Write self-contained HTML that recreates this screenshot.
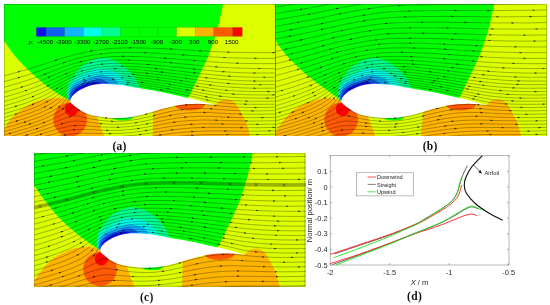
<!DOCTYPE html>
<html><head><meta charset="utf-8"><title>figure</title>
<style>
html,body{margin:0;padding:0;background:#fff}
body{width:550px;height:305px;position:relative;overflow:hidden;font-family:"Liberation Sans",sans-serif}
svg{position:absolute;display:block;overflow:hidden}
svg text{font-family:"Liberation Sans",sans-serif}
.ch{left:0;top:0}
.cap{position:absolute;font-family:"Liberation Serif",serif;font-weight:bold;font-size:11.5px;line-height:12px;letter-spacing:0.3px;width:30px;text-align:center;color:#111}
</style></head><body>
<svg width="0" height="0" style="position:absolute"><defs>
<clipPath id="above"><path d="M0 0H271V90H140L65 95.5H0Z"/></clipPath>
<clipPath id="axc"><rect x="330.2" y="155.4" width="178.8" height="109.6"/></clipPath>
</defs></svg>
<svg class="pn" style="left:3.7px;top:3.85px" width="271.6" height="132.65" viewBox="0 0 271.0 132.5" preserveAspectRatio="none">
<rect x="-3" y="-3" width="277.0" height="138.5" fill="#00ff00"/>
<path fill="#dcff00" d="M0 36.8 C1.7 39.1 6.7 46.5 10 50.6 C13.3 54.7 16.7 58.3 20 61.7 C23.3 65.1 26.1 67.7 30 71.1 C33.9 74.5 39 78.9 43.2 82.1 C47.4 85.3 51.2 87.9 55 90.3 C58.8 92.7 64.2 95.4 66 96.4 L184 93.6 C185.8 90 191.1 79.1 194.5 71.9 C197.9 64.7 201.3 58.4 204.5 50.2 C207.7 42.1 211.2 31.4 213.5 23 C215.8 14.6 217.8 3.8 218.6 0 L219.2 -3 L274.0 -3 L274.0 135.5 L-3 135.5 L-3 36.8 Z"/>
<path fill="#00ff8c" d="M64.7 97.7 C64.3 96.6 63 93.5 62.7 91.1 C62.4 88.7 62.6 85.9 63 83.5 C63.4 81.1 64 78.9 65.1 76.9 C66.2 74.8 67.5 73.4 69.4 71.1 C71.3 68.7 73.8 65.3 76.5 62.9 C79.2 60.5 82.7 58.4 85.8 56.9 C88.9 55.5 92.1 54.6 95 54.2 C97.9 53.7 100.5 53.9 103 54.3 C105.5 54.7 107.6 55.5 110 56.5 C112.4 57.6 114.7 58.7 117.2 60.5 C119.7 62.2 122.7 64.7 125.1 67.1 C127.5 69.6 130 72.5 131.7 75.1 C133.4 77.7 134.9 81.6 135.5 82.9 L133.5 92 L72 98 Z"/>
<path fill="#00ffe6" d="M65 97.7 C64.8 96.7 63.8 93.9 63.7 91.7 C63.6 89.5 63.9 86.7 64.6 84.6 C65.3 82.5 66.3 80.8 67.7 79.1 C69 77.5 70.6 76.3 72.6 74.7 C74.7 73.2 77.4 71.3 80 69.8 C82.6 68.4 85.6 66.9 88.1 66 C90.6 65.2 92.8 64.9 95 64.8 C97.2 64.7 98.9 64.9 101.5 65.4 C104.1 65.9 108.1 66.7 110.7 67.7 C113.3 68.8 115.4 70.3 117.2 71.9 C119 73.4 120.6 75.6 121.8 77.2 C123 78.8 124 80.8 124.5 81.6 L122.5 92 L72 98 Z"/>
<path fill="#10b4ff" d="M65.3 97.7 C65.2 96.8 64.6 94.4 64.6 92.4 C64.7 90.4 64.9 87.7 65.6 85.8 C66.3 83.9 67.4 82.4 68.8 81.1 C70.2 79.8 72 79 74 78 C76.1 77 78.6 76.1 81.2 75.1 C83.8 74.1 87.1 72.8 89.6 72.1 C92.1 71.5 94.1 71.1 96 71 C97.9 71 99.4 71.5 101 71.8 C102.6 72.1 103.8 72.3 105.4 72.8 C107 73.4 109.2 73.9 110.7 75.1 C112.2 76.4 113.9 79.4 114.5 80.2 L112.5 92 L72 98 Z"/>
<path fill="#1060f0" d="M65.7 97.7 C65.6 96.9 65.2 94.8 65.3 93 C65.5 91.2 65.9 88.8 66.8 87.2 C67.7 85.6 69.1 84.4 70.5 83.2 C71.9 82.1 73.5 81.2 75.4 80.3 C77.3 79.4 79.7 78.8 82.2 78 C84.7 77.1 88.3 75.8 90.6 75.3 C92.9 74.9 94.4 74.9 96 75.1 C97.6 75.2 98.9 75.8 100 76.3 C101.1 76.8 101.7 77.1 102.8 77.9 C103.9 78.7 105.9 80.5 106.5 81 L104.5 92 L72 98 Z"/>
<path fill="#1010f0" d="M66 97.7 C66.1 97.2 66.1 95.7 66.5 94.2 C66.9 92.8 67.6 90.6 68.6 89 C69.5 87.5 70.7 86.1 72.1 84.9 C73.5 83.8 75 82.9 77 81.9 C79 81 82 79.7 84.3 79.1 C86.6 78.4 89.2 78.1 91 78 C92.8 78 93.7 78.5 94.9 78.9 C96.1 79.4 97.5 80.6 98 80.9 L96 92 L72 98 Z"/>
<path fill="#ffb400" d="M0 126.8 C0.8 125.2 2.7 120.1 5 117 C7.3 113.9 11 110.5 14 108 C17 105.5 20 103.4 23 101.7 C26 100 28.7 98.7 32 97.6 C35.3 96.5 39.2 95.6 42.8 95 C46.4 94.4 50.2 93.9 53.7 94 C57.2 94.1 61.6 95 63.6 95.4 C65.7 95.8 65.6 96.2 66 96.4 L92.4 112 L101.4 135.5 L-3 135.5 L-3 128.8 Z"/>
<path fill="#ffb400" d="M148.3 135.5 L148.8 105 L200 100.4 L211 101.1  L211 101.1 C211.5 100.5 212.9 98.5 214 97.6 C215.1 96.7 215.9 96.3 217.3 95.9 C218.7 95.5 220.9 95.2 222.5 95.3 C224.1 95.4 225.4 95.6 227 96.5 C228.6 97.4 230.3 98.6 232 100.8 C233.7 103 235.5 106.3 237.2 109.5 C238.9 112.7 240.9 116.2 242.3 120 C243.7 123.8 244.9 129.9 245.6 132.5 C246.2 135.1 246.1 135 246.2 135.5 L246.2 135.5 Z"/>
<circle cx="66" cy="115.5" r="16.8" fill="#ff5a00"/>
<circle cx="67.4" cy="105.2" r="6.7" fill="#ff0000"/>
<path d="M170.1 99V100.3A15.2 6 0 0 0 200.5 100.3V99.4Z" fill="#ff5a00"/>
<ellipse cx="118.2" cy="113.4" rx="10.8" ry="2.9" fill="#00ff00"/>
<path fill="#fff" d="M211 101 L210.9 101 L210.6 100.9 L210.1 100.7 L209.3 100.5 L208.4 100.2 L207.3 99.9 L205.9 99.5 L204.4 99.1 L202.7 98.6 L200.8 98.1 L198.7 97.5 L196.4 96.9 L194 96.3 L191.4 95.6 L188.6 95 L185.7 94.3 L182.7 93.6 L179.5 92.9 L176.1 92.2 L172.7 91.4 L169.2 90.6 L165.6 89.7 L161.9 88.9 L158.1 88.1 L154.2 87.4 L150.3 86.7 L146.3 86 L142.3 85.4 L138.3 84.7 L134.3 84 L130.3 83.3 L126.3 82.6 L122.3 81.8 L118.4 81.1 L114.5 80.6 L110.6 80.3 L106.8 80.1 L103.1 79.8 L99.5 79.7 L96 79.8 L92.6 80.2 L89.4 80.7 L86.3 81.4 L83.5 82.4 L80.9 83.5 L78.4 84.6 L76.2 85.7 L74.1 86.9 L72.3 88.1 L70.8 89.3 L69.5 90.6 L68.4 91.7 L67.6 92.8 L67 93.8 L66.6 94.7 L66.4 95.5 L66.2 96 L66.1 96.3 L66.1 96.4 L66.1 96.5 L66.2 96.8 L66.3 97.4 L66.6 98.1 L67 98.9 L67.8 99.8 L68.8 100.7 L70.1 101.7 L71.5 102.8 L73 104 L74.7 105.3 L76.7 106.6 L78.8 107.9 L81.2 109.2 L83.8 110.2 L86.6 111.1 L89.7 111.8 L92.9 112.3 L96.2 112.8 L99.7 113.3 L103.3 113.7 L106.9 114 L110.7 114.1 L114.6 114 L118.5 113.9 L122.4 113.6 L126.4 113.1 L130.4 112.4 L134.3 111.6 L138.3 110.6 L142.2 109.5 L146 108.4 L149.9 107.2 L153.7 106.1 L157.4 105 L161.1 104 L164.8 103 L168.4 102.2 L171.9 101.5 L175.4 101 L178.7 100.5 L181.9 100.2 L185.1 100 L188 99.8 L190.9 99.7 L193.5 99.7 L196 99.8 L198.4 99.9 L200.5 100 L202.5 100.2 L204.2 100.3 L205.8 100.5 L207.2 100.6 L208.3 100.7 L209.3 100.8 L210 100.9 L210.6 101 L210.9 101 L211 101Z"/>
<path d="M0 71.7 L12 68.5 L24 65.1 L36 61.4 L48 57.5 L60 53.6 L72 50.3 L84 47.6 L96 45.7 L108 44.3 L120 43.8 L132 43.8 L144 44.1 L156 44.5 L168 45.1 L180 45.8 L192 46.5 L204 47.2 L216 47.8 L228 48.2 L240 48.5 L252 48.6 L264 48.6 L274 48.5M0 77.6 L12 74.3 L24 70.7 L36 66.8 L48 62.5 L60 58.4 L72 54.8 L84 51.9 L96 49.9 L108 48.7 L120 48.3 L132 48.4 L144 48.8 L156 49.4 L168 50.1 L180 50.9 L192 51.8 L204 52.6 L216 53.3 L228 53.8 L240 54.1 L252 54.3 L264 54.3 L274 54.2M0 83.2 L12 79.8 L24 76 L36 71.9 L48 67.3 L60 62.7 L72 58.8 L84 55.8 L96 53.8 L108 52.6 L120 52.3 L132 52.5 L144 53 L156 53.8 L168 54.7 L180 55.7 L192 56.6 L204 57.6 L216 58.4 L228 59 L240 59.4 L252 59.6 L264 59.6 L274 59.5M0 88.3 L12 84.9 L24 81 L36 76.7 L48 71.7 L60 66.7 L72 62.4 L84 59.3 L96 57.2 L108 56.1 L120 55.9 L132 56.3 L144 56.9 L156 57.8 L168 58.9 L180 60 L192 61.1 L204 62.2 L216 63.1 L228 63.8 L240 64.2 L252 64.5 L264 64.5 L274 64.4M0 93.1 L12 89.7 L24 85.7 L36 81.2 L47 76.3 L58 71.2 L70 66.4 L82 62.9 L94 60.6 L106 59.4 L118 59.2 L130 59.6 L142 60.3 L154 61.3 L166 62.5 L178 63.7 L190 65 L202 66.2 L214 67.3 L226 68.1 L238 68.7 L250 69 L262 69 L274 68.9M0 97.6 L12 94.1 L24 90.1 L36 85.4 L47 80.3 L58 74.7 L69 69.8 L81 65.9 L93 63.5 L105 62.2 L117 62.1 L129 62.6 L141 63.4 L153 64.6 L165 65.8 L177 67.2 L189 68.7 L201 70 L213 71.2 L225 72.2 L237 72.8 L249 73.1 L261 73.2 L273 73.1 L274 73.1M0 101.8 L12 98.3 L24 94.2 L36 89.4 L47 84 L58 78 L69 72.6 L81 68.4 L93 65.9 L105 64.8 L117 64.7 L129 65.3 L141 66.3 L153 67.6 L165 69 L177 70.5 L189 72.1 L201 73.6 L213 74.9 L225 75.9 L237 76.6 L249 76.9 L261 77 L273 76.9 L274 76.9M0 105.7 L12 102.2 L24 98.2 L36 93.4 L47 87.8 L58 81.1 L69 75.2 L81 70.7 L93 68.1 L105 67.1 L117 67.1 L129 67.9 L141 69 L153 70.4 L165 71.9 L177 73.6 L189 75.3 L201 77 L213 78.5 L225 79.5 L237 80.2 L249 80.6 L261 80.6 L273 80.5 L274 80.5M0 109.6 L12 106.1 L24 102.1 L36 97.3 L47 91.6 L58 84.3 L69 77.7 L80 73.2 L92 70.3 L104 69.2 L116 69.4 L128 70.2 L140 71.5 L152 73 L164 74.6 L176 76.4 L188 78.3 L200 80.1 L212 81.8 L224 83 L236 83.7 L248 84.1 L260 84.1 L272 84 L274 84M0 113.4 L12 109.9 L24 105.9 L36 101.2 L47 95.5 L57 88.4 L66 81.8 L75 77.1 L86 73.5 L98 71.6 L110 71.3 L122 72 L134 73.3 L146 74.8 L158 76.4 L170 78.3 L182 80.3 L194 82.3 L206 84.2 L218 85.8 L230 86.8 L242 87.3 L254 87.5 L266 87.5 L274 87.4M0 117 L12 113.6 L24 109.6 L36 105 L47 99.5 L54 94.6 L64 85.8 L70 81.7 L79 77.5 L89 74.6 L101 73.3 L113 73.4 L125 74.4 L137 76 L149 77.6 L161 79.4 L173 81.5 L185 83.6 L197 85.8 L209 87.9 L221 89.4 L233 90.3 L245 90.7 L257 90.9 L269 90.8 L274 90.7M0 120.6 L12 117.2 L24 113.3 L36 108.8 L47 103.6 L53 99.6 L57 96.1 L64 88.6 L69 84.6 L76 80.6 L85 77.3 L95 75.4 L107 75 L119 75.8 L131 77.4 L143 79.1 L155 80.9 L167 83 L179 85.3 L191 87.6 L203 90 L215 92 L227 93.2 L239 93.8 L251 94 L263 94 L274 93.8M0 124.1 L12 120.7 L24 116.9 L36 112.6 L47 107.7 L53 104.1 L56 101.8 L58 99.9 L60 97.5 L64 91.7 L67 88.4 L71 85.3 L78 81.5 L86 78.6 L96 76.9 L108 76.8 L120 77.8 L132 79.6 L144 81.5 L156 83.4 L168 85.6 L180 88.1 L192 90.6 L204 93.2 L216 95.4 L228 96.5 L240 97 L252 97.2 L264 97.1 L274 96.9M0 127.5 L12 124.1 L24 120.4 L36 116.3 L48 111.2 L56 106.8 L59 104.6 L61 102.6 L62 101.2 L63 99.2 L64 96.1 L65 93.8 L66 92.2 L68 89.8 L71 87.2 L76 84.1 L84 80.7 L92 78.8 L104 78.3 L116 79.1 L128 81 L140 83 L152 84.9 L164 87.2 L176 89.8 L188 92.3 L200 95.2 L212 98 L224 99.3 L236 100 L248 100.2 L260 100.2 L272 100 L274 99.9M0 130.8 L12 127.5 L24 123.9 L36 119.9 L48 115.2 L59 110 L64 106.9 L66 105 L67 104.2 L69 103.5 L70 103.4 L71 103.6 L81 109.4 L87 111.6 L99 113.6 L111 114.5 L123 113.9 L135 111.9 L147 108.7 L159 105.2 L171 102.4 L183 100.7 L195 100.2 L207 101 L219 102.3 L231 103 L243 103.3 L255 103.4 L267 103.2 L274 103.1M0 134.1 L12 130.8 L24 127.2 L36 123.4 L48 119 L60 114.4 L67 112.1 L70 111.6 L73 111.7 L85 114.5 L97 116.4 L109 117.3 L121 116.9 L133 115.3 L145 112.6 L157 109.5 L169 106.8 L181 105 L193 104.3 L205 104.6 L217 105.6 L229 106.3 L241 106.7 L253 106.8 L265 106.6 L274 106.4M7 135.4 L19 132.1 L31 128.4 L43 124.5 L55 120.5 L66 117.4 L72 116.8 L84 118 L96 119.5 L108 120.2 L120 119.9 L132 118.5 L144 116.2 L156 113.4 L168 110.9 L180 109.1 L192 108.3 L204 108.4 L216 109.1 L228 109.7 L240 110 L252 110.1 L264 110 L274 109.8M19 135.4 L31 131.8 L43 128.1 L55 124.4 L67 121.7 L76 121.2 L88 122.1 L100 123 L112 123.2 L124 122.6 L136 121 L148 118.7 L160 116.2 L172 114 L184 112.7 L196 112.1 L208 112.3 L220 112.9 L232 113.3 L244 113.5 L256 113.5 L268 113.3 L274 113.1M31 135.2 L43 131.7 L55 128.3 L67 125.8 L79 125.2 L91 125.8 L103 126.3 L115 126.2 L127 125.3 L139 123.6 L151 121.5 L163 119.2 L175 117.4 L187 116.3 L199 115.9 L211 116.1 L223 116.5 L235 116.7 L247 116.9 L259 116.8 L271 116.6 L274 116.5M42 135.5 L54 132.3 L66 129.9 L78 129 L90 129.2 L102 129.5 L114 129.3 L126 128.5 L138 127 L150 125 L162 123 L174 121.3 L186 120.2 L198 119.7 L210 119.7 L222 119.9 L234 120.1 L246 120.2 L258 120.2 L270 119.9 L274 119.8M56 135.5 L68 133.5 L80 132.6 L92 132.6 L104 132.7 L116 132.3 L128 131.4 L140 129.9 L152 128.1 L164 126.3 L176 124.8 L188 123.7 L200 123.3 L212 123.3 L224 123.4 L236 123.6 L248 123.6 L260 123.5 L272 123.2 L274 123.1M115 135.5 L127 134.6 L139 133.3 L151 131.7 L163 130 L175 128.5 L187 127.5 L199 127 L211 126.8 L223 126.9 L235 127 L247 127 L259 126.9 L271 126.6 L274 126.5M148 135.4 L160 133.8 L172 132.4 L184 131.3 L196 130.7 L208 130.4 L220 130.4 L232 130.4 L244 130.4 L256 130.3 L268 130.1 L274 129.8M177 135.5 L189 134.6 L201 134.1 L213 133.9 L225 133.8 L237 133.8 L249 133.7 L261 133.5 L273 133.2 L274 133.2" fill="none" stroke="#000" stroke-opacity="0.62" stroke-width="0.48"/>
<path d="M16.5 67.3L14.3 68.8L13.8 67.1ZM53.5 55.7L51.4 57.3L50.8 55.7ZM88.6 46.8L86.2 48.1L85.9 46.4ZM127.6 43.8L125 44.6L125 42.9ZM168.6 45.2L166 45.9L166.1 44.2ZM197.6 46.9L195 47.6L195.1 45.9ZM225.6 48.2L223 48.9L223.1 47.2ZM270.6 48.6L268 49.4L268 47.7ZM16.5 73L14.3 74.5L13.8 72.9ZM61.5 57.9L59.4 59.5L58.8 57.9ZM98.6 49.6L96.2 50.8L95.9 49.1ZM142.6 48.7L140 49.4L140.1 47.7ZM180.6 51L178 51.6L178.1 50ZM221.6 53.5L219 54.3L219.1 52.6ZM252.6 54.3L250 55.1L250 53.4ZM42.5 69.4L40.4 71.2L39.8 69.6ZM78.5 57L76.3 58.5L75.9 56.9ZM120.6 52.3L118 53.1L118 51.4ZM162.6 54.3L160 54.9L160.1 53.2ZM191.6 56.6L189 57.3L189.1 55.6ZM234.6 59.2L232 60L232.1 58.3ZM19.5 82.5L17.3 84.1L16.8 82.5ZM46.5 72.3L44.5 74.1L43.8 72.6ZM88.6 58.4L86.2 59.7L85.9 58ZM126.6 56.1L124 56.8L124.1 55.1ZM168.6 58.9L166 59.5L166.1 57.8ZM213.6 62.9L211 63.6L211.1 61.9ZM256.6 64.5L254 65.3L254 63.6ZM23.5 85.9L21.4 87.5L20.8 85.9ZM63.5 68.9L61.4 70.7L60.8 69.1ZM99.6 59.9L97.1 61L96.9 59.3ZM145.6 60.6L143 61.3L143.1 59.6ZM191.6 65.2L189 65.8L189.1 64.1ZM220.6 67.8L218 68.5L218.1 66.8ZM251.6 69L249 69.8L249.1 68.1ZM45.4 81L43.5 82.9L42.8 81.4ZM79.5 66.3L77.3 67.8L76.8 66.2ZM119.6 62.1L117 62.9L117.1 61.2ZM153.6 64.6L151 65.2L151.1 63.5ZM191.6 69L188.9 69.5L189.1 67.8ZM226.6 72.3L224 72.9L224.1 71.2ZM261.6 73.2L259 74L259 72.3ZM30.5 91.8L28.4 93.5L27.8 91.9ZM71.5 71.6L69.4 73.3L68.8 71.8ZM112.6 64.6L110 65.4L110 63.7ZM159.6 68.3L156.9 68.9L157.1 67.2ZM203.6 73.9L200.9 74.5L201.1 72.8ZM251.6 77L249 77.8L249.1 76.1ZM13.5 101.7L11.3 103.3L10.8 101.7ZM54.4 83.4L52.6 85.4L51.7 84ZM98.6 67.4L96.1 68.6L96 66.9ZM144.6 69.4L142 70L142.1 68.3ZM183.6 74.5L180.9 75L181.2 73.3ZM225.6 79.6L223 80.2L223.1 78.5ZM257.6 80.6L255 81.5L255 79.8ZM30.5 99.6L28.4 101.3L27.8 99.7ZM59.3 83.4L57.7 85.5L56.7 84.1ZM86.6 71.3L84.3 72.8L83.9 71.1ZM130.6 70.5L128 71.1L128.1 69.4ZM178.6 76.8L175.9 77.3L176.2 75.6ZM207.6 81.2L204.9 81.7L205.2 80ZM251.6 84.1L249 84.9L249.1 83.2ZM13.5 109.4L11.3 111L10.8 109.3ZM44.4 97L42.6 99L41.8 97.5ZM81.5 74.7L79.4 76.3L78.8 74.7ZM126.6 72.4L124 73L124.1 71.3ZM155.6 76.1L152.9 76.5L153.2 74.9ZM194.6 82.4L191.9 82.8L192.2 81.1ZM223.6 86.3L221 87L221.1 85.3ZM265.6 87.5L263 88.4L263 86.7ZM42.4 102L40.5 103.9L39.8 102.4ZM82.5 76.2L80.4 77.9L79.8 76.3ZM119.6 73.9L117 74.5L117.1 72.8ZM167.6 80.5L164.9 80.9L165.2 79.3ZM200.6 86.5L197.9 86.9L198.2 85.2ZM230.6 90.2L228 90.9L228.1 89.2ZM270.6 90.7L268.1 91.6L268 89.9ZM14.5 116.4L12.3 118L11.8 116.3ZM48.4 102.8L46.6 104.8L45.7 103.3ZM80.5 78.7L78.4 80.5L77.8 78.9ZM110.6 75.1L108 75.9L108.1 74.2ZM139.6 78.6L136.9 79.1L137.2 77.4ZM184.6 86.3L181.9 86.7L182.2 85ZM217.6 92.4L214.9 92.9L215.2 91.2ZM264.6 94L262 94.9L262 93.2ZM22.5 117.4L20.3 119L19.8 117.4ZM56.3 101.7L54.7 103.9L53.7 102.6ZM85.5 78.7L83.4 80.3L82.8 78.7ZM125.6 78.6L122.9 79.1L123.2 77.4ZM165.6 85.2L162.9 85.5L163.2 83.8ZM203.6 93.1L200.9 93.4L201.2 91.7ZM243.6 97.1L241 97.9L241.1 96.2ZM27.5 119.3L25.4 120.9L24.8 119.3ZM60.2 103.6L58.8 105.8L57.7 104.5ZM91.6 78.9L89.2 80.2L88.9 78.5ZM124.6 80.4L121.9 80.8L122.2 79.1ZM158.6 86.1L155.9 86.4L156.2 84.8ZM204.6 96.3L201.9 96.5L202.3 94.8ZM242.6 100.1L240 100.9L240.1 99.2ZM7.5 128.8L5.3 130.3L4.8 128.6ZM41.5 117.8L39.4 119.5L38.8 117.9ZM76.3 106.9L73.7 106.1L74.7 104.7ZM103.6 114.1L101 114.7L101.1 113ZM143.5 109.7L141.3 111.2L140.8 109.6ZM183.6 100.6L181.1 101.7L181 100ZM212.6 101.6L210 102.1L210.1 100.4ZM252.6 103.4L250 104.3L250 102.6ZM34.5 123.9L32.4 125.5L31.8 123.9ZM67.5 111.9L65.3 113.4L64.8 111.8ZM109.6 117.3L107 118.1L107.1 116.4ZM151.5 110.9L149.3 112.4L148.9 110.7ZM179.6 105.1L177.2 106.3L176.9 104.6ZM208.6 104.9L206 105.6L206.1 103.9ZM249.6 106.8L247 107.6L247 105.9ZM24.5 130.4L22.3 132L21.8 130.3ZM59.5 119L57.3 120.6L56.8 119ZM98.6 119.8L96 120.4L96.1 118.7ZM133.6 118.3L131.2 119.5L130.9 117.8ZM167.6 110.9L165.2 112.3L164.9 110.6ZM201.6 108.3L199 109.1L199.1 107.4ZM237.6 110L235 110.8L235.1 109.1ZM38.5 129.5L36.3 131.1L35.8 129.5ZM72.6 121.2L70.1 122.2L70 120.5ZM115.6 123.2L113.1 124.1L113 122.4ZM144.6 119.4L142.2 120.7L141.9 119ZM182.6 112.8L180.1 113.9L180 112.2ZM225.6 113.1L223 113.8L223.1 112.1ZM259.6 113.4L257 114.3L257 112.6ZM71.6 125.3L69.1 126.4L69 124.8ZM104.6 126.3L102 127.1L102.1 125.4ZM135.6 124.2L133.2 125.4L132.9 123.7ZM171.6 117.9L169.2 119.1L168.9 117.4ZM213.6 116.2L211 116.9L211.1 115.2ZM243.6 116.8L241 117.7L241 116ZM62.6 130.5L60.2 131.8L59.9 130.1ZM107.6 129.5L105 130.3L105 128.6ZM143.6 126.1L141.2 127.4L140.9 125.7ZM188.6 120L186.1 121L186 119.3ZM219.6 119.9L217 120.7L217.1 119ZM254.6 120.2L252 121.1L252 119.4ZM137.6 130.3L135.2 131.4L134.9 129.7ZM169.6 125.5L167.2 126.7L166.9 125ZM200.6 123.3L198.1 124.2L198 122.5ZM238.6 123.6L236 124.4L236 122.7ZM270.6 123.3L268.1 124.2L268 122.5ZM157.6 130.7L155.2 131.9L154.9 130.2ZM189.6 127.3L187.1 128.3L187 126.6ZM222.6 126.9L220 127.7L220 126ZM266.6 126.7L264.1 127.6L264 125.9ZM189.6 131L187.1 132L187 130.3ZM224.6 130.4L222 131.2L222 129.5ZM254.6 130.3L252 131.2L252 129.5Z" fill="#000" fill-opacity="0.75"/>
<rect x="32.2" y="23.4" width="9.8" height="9" fill="#1010f0" stroke="#1a3a1a" stroke-opacity="0.3" stroke-width="0.35"/>
<rect x="42" y="23.4" width="18.6" height="9" fill="#1060f0" stroke="#1a3a1a" stroke-opacity="0.3" stroke-width="0.35"/>
<rect x="60.6" y="23.4" width="18.6" height="9" fill="#10b4ff" stroke="#1a3a1a" stroke-opacity="0.3" stroke-width="0.35"/>
<rect x="79.2" y="23.4" width="18.6" height="9" fill="#00ffe6" stroke="#1a3a1a" stroke-opacity="0.3" stroke-width="0.35"/>
<rect x="97.8" y="23.4" width="18.6" height="9" fill="#00ff8c" stroke="#1a3a1a" stroke-opacity="0.3" stroke-width="0.35"/>
<rect x="116.4" y="23.4" width="18.6" height="9" fill="#00ff00" stroke="#1a3a1a" stroke-opacity="0.3" stroke-width="0.35"/>
<rect x="135" y="23.4" width="18.6" height="9" fill="#00ff00" stroke="#1a3a1a" stroke-opacity="0.3" stroke-width="0.35"/>
<rect x="153.6" y="23.4" width="18.6" height="9" fill="#00ff00" stroke="#1a3a1a" stroke-opacity="0.3" stroke-width="0.35"/>
<rect x="172.2" y="23.4" width="18.6" height="9" fill="#dcff00" stroke="#1a3a1a" stroke-opacity="0.3" stroke-width="0.35"/>
<rect x="190.8" y="23.4" width="18.6" height="9" fill="#ffb400" stroke="#1a3a1a" stroke-opacity="0.3" stroke-width="0.35"/>
<rect x="209.4" y="23.4" width="18.6" height="9" fill="#ff5a00" stroke="#1a3a1a" stroke-opacity="0.3" stroke-width="0.35"/>
<rect x="228" y="23.4" width="9.8" height="9" fill="#ff0000" stroke="#1a3a1a" stroke-opacity="0.3" stroke-width="0.35"/>
<text x="41.1" y="39.6" font-size="6.2" text-anchor="middle" fill="#000">-4500</text>
<text x="59.7" y="39.6" font-size="6.2" text-anchor="middle" fill="#000">-3900</text>
<text x="78.3" y="39.6" font-size="6.2" text-anchor="middle" fill="#000">-3300</text>
<text x="96.9" y="39.6" font-size="6.2" text-anchor="middle" fill="#000">-2700</text>
<text x="115.5" y="39.6" font-size="6.2" text-anchor="middle" fill="#000">-2100</text>
<text x="134.1" y="39.6" font-size="6.2" text-anchor="middle" fill="#000">-1500</text>
<text x="152.7" y="39.6" font-size="6.2" text-anchor="middle" fill="#000">-900</text>
<text x="171.3" y="39.6" font-size="6.2" text-anchor="middle" fill="#000">-300</text>
<text x="189.9" y="39.6" font-size="6.2" text-anchor="middle" fill="#000">300</text>
<text x="208.5" y="39.6" font-size="6.2" text-anchor="middle" fill="#000">900</text>
<text x="227.1" y="39.6" font-size="6.2" text-anchor="middle" fill="#000">1500</text>
<text x="24.6" y="39.8" font-size="5.4" font-style="italic" fill="#000">p:</text>
<rect x="0.25" y="0.25" width="270.5" height="132.0" fill="none" stroke="#222" stroke-opacity="0.45" stroke-width="0.5"/>
</svg>
<svg class="pn" style="left:275.3px;top:3.85px" width="271.7" height="132.65" viewBox="0 0 271.0 132.5" preserveAspectRatio="none">
<rect x="-3" y="-3" width="277.0" height="138.5" fill="#00ff00"/>
<path fill="#dcff00" d="M0 36.2 C1.9 38.7 7.3 46.6 11.4 51.3 C15.5 56 19.8 60.1 24.6 64.5 C29.4 68.9 35 73.5 40.3 77.6 C45.5 81.7 51.8 85.8 56.1 88.9 C60.4 92 64.3 95.2 66 96.4 L184 93.6 C185.8 90 191.1 79.1 194.5 71.9 C197.9 64.7 201.3 58.4 204.5 50.2 C207.7 42.1 211.2 31.4 213.5 23 C215.8 14.6 217.8 3.8 218.6 0 L219.2 -3 L274.0 -3 L274.0 135.5 L-3 135.5 L-3 36.2 Z"/>
<path fill="#00ff8c" d="M64.7 97.7 C64.3 96.6 63 93.5 62.7 91.1 C62.4 88.7 62.6 85.9 63 83.5 C63.4 81.1 64 78.9 65.1 76.9 C66.2 74.8 67.5 73.4 69.4 71.1 C71.3 68.7 73.8 65.3 76.5 62.9 C79.2 60.5 82.7 58.4 85.8 56.9 C88.9 55.5 92.1 54.6 95 54.2 C97.9 53.7 100.5 53.9 103 54.3 C105.5 54.7 107.6 55.5 110 56.5 C112.4 57.6 114.7 58.7 117.2 60.5 C119.7 62.2 122.7 64.7 125.1 67.1 C127.5 69.6 130 72.5 131.7 75.1 C133.4 77.7 134.9 81.6 135.5 82.9 L133.5 92 L72 98 Z"/>
<path fill="#00ffe6" d="M65 97.7 C64.8 96.7 63.8 93.9 63.7 91.7 C63.6 89.5 63.9 86.7 64.6 84.6 C65.3 82.5 66.3 80.8 67.7 79.1 C69 77.5 70.6 76.3 72.6 74.7 C74.7 73.2 77.4 71.3 80 69.8 C82.6 68.4 85.6 66.9 88.1 66 C90.6 65.2 92.8 64.9 95 64.8 C97.2 64.7 98.9 64.9 101.5 65.4 C104.1 65.9 108.1 66.7 110.7 67.7 C113.3 68.8 115.4 70.3 117.2 71.9 C119 73.4 120.6 75.6 121.8 77.2 C123 78.8 124 80.8 124.5 81.6 L122.5 92 L72 98 Z"/>
<path fill="#10b4ff" d="M65.3 97.7 C65.2 96.8 64.6 94.4 64.6 92.4 C64.7 90.4 64.9 87.7 65.6 85.8 C66.3 83.9 67.4 82.4 68.8 81.1 C70.2 79.8 72 79 74 78 C76.1 77 78.6 76.1 81.2 75.1 C83.8 74.1 87.1 72.8 89.6 72.1 C92.1 71.5 94.1 71.1 96 71 C97.9 71 99.4 71.5 101 71.8 C102.6 72.1 103.8 72.3 105.4 72.8 C107 73.4 109.2 73.9 110.7 75.1 C112.2 76.4 113.9 79.4 114.5 80.2 L112.5 92 L72 98 Z"/>
<path fill="#1060f0" d="M65.7 97.7 C65.6 96.9 65.2 94.8 65.3 93 C65.5 91.2 65.9 88.8 66.8 87.2 C67.7 85.6 69.1 84.4 70.5 83.2 C71.9 82.1 73.5 81.2 75.4 80.3 C77.3 79.4 79.7 78.8 82.2 78 C84.7 77.1 88.3 75.8 90.6 75.3 C92.9 74.9 94.4 74.9 96 75.1 C97.6 75.2 98.9 75.8 100 76.3 C101.1 76.8 101.7 77.1 102.8 77.9 C103.9 78.7 105.9 80.5 106.5 81 L104.5 92 L72 98 Z"/>
<path fill="#1010f0" d="M66 97.7 C66.1 97.2 66.1 95.7 66.5 94.2 C66.9 92.8 67.6 90.6 68.6 89 C69.5 87.5 70.7 86.1 72.1 84.9 C73.5 83.8 75 82.9 77 81.9 C79 81 82 79.7 84.3 79.1 C86.6 78.4 89.2 78.1 91 78 C92.8 78 93.7 78.5 94.9 78.9 C96.1 79.4 97.5 80.6 98 80.9 L96 92 L72 98 Z"/>
<path fill="#ffb400" d="M0 129 C0.8 127.8 2.2 124.5 4.5 121.5 C6.8 118.5 10.5 113.7 13.5 110.7 C16.5 107.7 19.5 105.5 22.5 103.5 C25.5 101.5 28.2 100.3 31.5 99 C34.8 97.7 38.7 96.2 42.3 95.4 C45.9 94.6 49.7 93.9 53.2 94 C56.7 94.1 61 95.4 63.1 95.8 C65.2 96.2 65.5 96.3 66 96.4 L92.4 112 L101.4 135.5 L-3 135.5 L-3 131 Z"/>
<path fill="#ffb400" d="M145.2 135.5 L148.0 105 L200 100.4 L211 101.1  L211 101.1 C211.5 100.5 212.9 98.5 214 97.6 C215.1 96.7 215.9 96.3 217.3 95.9 C218.7 95.5 220.9 95.2 222.5 95.3 C224.1 95.4 225.4 95.6 227 96.5 C228.6 97.4 230.3 98.6 232 100.8 C233.7 103 235.5 106.3 237.2 109.5 C238.9 112.7 240.9 116.2 242.3 120 C243.7 123.8 244.9 129.9 245.6 132.5 C246.2 135.1 246.1 135 246.2 135.5 L246.2 135.5 Z"/>
<circle cx="66" cy="115.5" r="16.8" fill="#ff5a00"/>
<circle cx="67.4" cy="105.2" r="6.7" fill="#ff0000"/>
<path d="M170.1 99V100.3A15.2 6 0 0 0 200.5 100.3V99.4Z" fill="#ff5a00"/>
<ellipse cx="118.2" cy="113.4" rx="10.8" ry="2.9" fill="#00ff00"/>
<path fill="#fff" d="M211 101 L210.9 101 L210.6 100.9 L210.1 100.7 L209.3 100.5 L208.4 100.2 L207.3 99.9 L205.9 99.5 L204.4 99.1 L202.7 98.6 L200.8 98.1 L198.7 97.5 L196.4 96.9 L194 96.3 L191.4 95.6 L188.6 95 L185.7 94.3 L182.7 93.6 L179.5 92.9 L176.1 92.2 L172.7 91.4 L169.2 90.6 L165.6 89.7 L161.9 88.9 L158.1 88.1 L154.2 87.4 L150.3 86.7 L146.3 86 L142.3 85.4 L138.3 84.7 L134.3 84 L130.3 83.3 L126.3 82.6 L122.3 81.8 L118.4 81.1 L114.5 80.6 L110.6 80.3 L106.8 80.1 L103.1 79.8 L99.5 79.7 L96 79.8 L92.6 80.2 L89.4 80.7 L86.3 81.4 L83.5 82.4 L80.9 83.5 L78.4 84.6 L76.2 85.7 L74.1 86.9 L72.3 88.1 L70.8 89.3 L69.5 90.6 L68.4 91.7 L67.6 92.8 L67 93.8 L66.6 94.7 L66.4 95.5 L66.2 96 L66.1 96.3 L66.1 96.4 L66.1 96.5 L66.2 96.8 L66.3 97.4 L66.6 98.1 L67 98.9 L67.8 99.8 L68.8 100.7 L70.1 101.7 L71.5 102.8 L73 104 L74.7 105.3 L76.7 106.6 L78.8 107.9 L81.2 109.2 L83.8 110.2 L86.6 111.1 L89.7 111.8 L92.9 112.3 L96.2 112.8 L99.7 113.3 L103.3 113.7 L106.9 114 L110.7 114.1 L114.6 114 L118.5 113.9 L122.4 113.6 L126.4 113.1 L130.4 112.4 L134.3 111.6 L138.3 110.6 L142.2 109.5 L146 108.4 L149.9 107.2 L153.7 106.1 L157.4 105 L161.1 104 L164.8 103 L168.4 102.2 L171.9 101.5 L175.4 101 L178.7 100.5 L181.9 100.2 L185.1 100 L188 99.8 L190.9 99.7 L193.5 99.7 L196 99.8 L198.4 99.9 L200.5 100 L202.5 100.2 L204.2 100.3 L205.8 100.5 L207.2 100.6 L208.3 100.7 L209.3 100.8 L210 100.9 L210.6 101 L210.9 101 L211 101Z"/>
<path d="M0 71.7 L12 68.5 L24 65.1 L36 61.4 L48 57.5 L60 53.6 L72 50.3 L84 47.6 L96 45.7 L108 44.3 L120 43.8 L132 43.8 L144 44.1 L156 44.5 L168 45.1 L180 45.8 L192 46.5 L204 47.2 L216 47.8 L228 48.2 L240 48.5 L252 48.6 L264 48.6 L274 48.5M0 77.6 L12 74.3 L24 70.7 L36 66.8 L48 62.5 L60 58.4 L72 54.8 L84 51.9 L96 49.9 L108 48.7 L120 48.3 L132 48.4 L144 48.8 L156 49.4 L168 50.1 L180 50.9 L192 51.8 L204 52.6 L216 53.3 L228 53.8 L240 54.1 L252 54.3 L264 54.3 L274 54.2M0 83.2 L12 79.8 L24 76 L36 71.9 L48 67.3 L60 62.7 L72 58.8 L84 55.8 L96 53.8 L108 52.6 L120 52.3 L132 52.5 L144 53 L156 53.8 L168 54.7 L180 55.7 L192 56.6 L204 57.6 L216 58.4 L228 59 L240 59.4 L252 59.6 L264 59.6 L274 59.5M0 88.3 L12 84.9 L24 81 L36 76.7 L48 71.7 L60 66.7 L72 62.4 L84 59.3 L96 57.2 L108 56.1 L120 55.9 L132 56.3 L144 56.9 L156 57.8 L168 58.9 L180 60 L192 61.1 L204 62.2 L216 63.1 L228 63.8 L240 64.2 L252 64.5 L264 64.5 L274 64.4M0 93.1 L12 89.7 L24 85.7 L36 81.2 L47 76.3 L58 71.2 L70 66.4 L82 62.9 L94 60.6 L106 59.4 L118 59.2 L130 59.6 L142 60.3 L154 61.3 L166 62.5 L178 63.7 L190 65 L202 66.2 L214 67.3 L226 68.1 L238 68.7 L250 69 L262 69 L274 68.9M0 97.6 L12 94.1 L24 90.1 L36 85.4 L47 80.3 L58 74.7 L69 69.8 L81 65.9 L93 63.5 L105 62.2 L117 62.1 L129 62.6 L141 63.4 L153 64.6 L165 65.8 L177 67.2 L189 68.7 L201 70 L213 71.2 L225 72.2 L237 72.8 L249 73.1 L261 73.2 L273 73.1 L274 73.1M0 101.8 L12 98.3 L24 94.2 L36 89.4 L47 84 L58 78 L69 72.6 L81 68.4 L93 65.9 L105 64.8 L117 64.7 L129 65.3 L141 66.3 L153 67.6 L165 69 L177 70.5 L189 72.1 L201 73.6 L213 74.9 L225 75.9 L237 76.6 L249 76.9 L261 77 L273 76.9 L274 76.9M0 105.7 L12 102.2 L24 98.2 L36 93.4 L47 87.8 L58 81.1 L69 75.2 L81 70.7 L93 68.1 L105 67.1 L117 67.1 L129 67.9 L141 69 L153 70.4 L165 71.9 L177 73.6 L189 75.3 L201 77 L213 78.5 L225 79.5 L237 80.2 L249 80.6 L261 80.6 L273 80.5 L274 80.5M0 109.6 L12 106.1 L24 102.1 L36 97.3 L47 91.6 L58 84.3 L69 77.7 L80 73.2 L92 70.3 L104 69.2 L116 69.4 L128 70.2 L140 71.5 L152 73 L164 74.6 L176 76.4 L188 78.3 L200 80.1 L212 81.8 L224 83 L236 83.7 L248 84.1 L260 84.1 L272 84 L274 84M0 113.4 L12 109.9 L24 105.9 L36 101.2 L47 95.5 L57 88.4 L66 81.8 L75 77.1 L86 73.5 L98 71.6 L110 71.3 L122 72 L134 73.3 L146 74.8 L158 76.4 L170 78.3 L182 80.3 L194 82.3 L206 84.2 L218 85.8 L230 86.8 L242 87.3 L254 87.5 L266 87.5 L274 87.4M0 117 L12 113.6 L24 109.6 L36 105 L47 99.5 L54 94.6 L64 85.8 L70 81.7 L79 77.5 L89 74.6 L101 73.3 L113 73.4 L125 74.4 L137 76 L149 77.6 L161 79.4 L173 81.5 L185 83.6 L197 85.8 L209 87.9 L221 89.4 L233 90.3 L245 90.7 L257 90.9 L269 90.8 L274 90.7M0 120.6 L12 117.2 L24 113.3 L36 108.8 L47 103.6 L53 99.6 L57 96.1 L64 88.6 L69 84.6 L76 80.6 L85 77.3 L95 75.4 L107 75 L119 75.8 L131 77.4 L143 79.1 L155 80.9 L167 83 L179 85.3 L191 87.6 L203 90 L215 92 L227 93.2 L239 93.8 L251 94 L263 94 L274 93.8M0 124.1 L12 120.7 L24 116.9 L36 112.6 L47 107.7 L53 104.1 L56 101.8 L58 99.9 L60 97.5 L64 91.7 L67 88.4 L71 85.3 L78 81.5 L86 78.6 L96 76.9 L108 76.8 L120 77.8 L132 79.6 L144 81.5 L156 83.4 L168 85.6 L180 88.1 L192 90.6 L204 93.2 L216 95.4 L228 96.5 L240 97 L252 97.2 L264 97.1 L274 96.9M0 127.5 L12 124.1 L24 120.4 L36 116.3 L48 111.2 L56 106.8 L59 104.6 L61 102.6 L62 101.2 L63 99.2 L64 96.1 L65 93.8 L66 92.2 L68 89.8 L71 87.2 L76 84.1 L84 80.7 L92 78.8 L104 78.3 L116 79.1 L128 81 L140 83 L152 84.9 L164 87.2 L176 89.8 L188 92.3 L200 95.2 L212 98 L224 99.3 L236 100 L248 100.2 L260 100.2 L272 100 L274 99.9M0 130.8 L12 127.5 L24 123.9 L36 119.9 L48 115.2 L59 110 L64 106.9 L66 105 L67 104.2 L69 103.5 L70 103.4 L71 103.6 L81 109.4 L87 111.6 L99 113.6 L111 114.5 L123 113.9 L135 111.9 L147 108.7 L159 105.2 L171 102.4 L183 100.7 L195 100.2 L207 101 L219 102.3 L231 103 L243 103.3 L255 103.4 L267 103.2 L274 103.1M0 134.1 L12 130.8 L24 127.2 L36 123.4 L48 119 L60 114.4 L67 112.1 L70 111.6 L73 111.7 L85 114.5 L97 116.4 L109 117.3 L121 116.9 L133 115.3 L145 112.6 L157 109.5 L169 106.8 L181 105 L193 104.3 L205 104.6 L217 105.6 L229 106.3 L241 106.7 L253 106.8 L265 106.6 L274 106.4M7 135.4 L19 132.1 L31 128.4 L43 124.5 L55 120.5 L66 117.4 L72 116.8 L84 118 L96 119.5 L108 120.2 L120 119.9 L132 118.5 L144 116.2 L156 113.4 L168 110.9 L180 109.1 L192 108.3 L204 108.4 L216 109.1 L228 109.7 L240 110 L252 110.1 L264 110 L274 109.8M19 135.4 L31 131.8 L43 128.1 L55 124.4 L67 121.7 L76 121.2 L88 122.1 L100 123 L112 123.2 L124 122.6 L136 121 L148 118.7 L160 116.2 L172 114 L184 112.7 L196 112.1 L208 112.3 L220 112.9 L232 113.3 L244 113.5 L256 113.5 L268 113.3 L274 113.1M31 135.2 L43 131.7 L55 128.3 L67 125.8 L79 125.2 L91 125.8 L103 126.3 L115 126.2 L127 125.3 L139 123.6 L151 121.5 L163 119.2 L175 117.4 L187 116.3 L199 115.9 L211 116.1 L223 116.5 L235 116.7 L247 116.9 L259 116.8 L271 116.6 L274 116.5M42 135.5 L54 132.3 L66 129.9 L78 129 L90 129.2 L102 129.5 L114 129.3 L126 128.5 L138 127 L150 125 L162 123 L174 121.3 L186 120.2 L198 119.7 L210 119.7 L222 119.9 L234 120.1 L246 120.2 L258 120.2 L270 119.9 L274 119.8M56 135.5 L68 133.5 L80 132.6 L92 132.6 L104 132.7 L116 132.3 L128 131.4 L140 129.9 L152 128.1 L164 126.3 L176 124.8 L188 123.7 L200 123.3 L212 123.3 L224 123.4 L236 123.6 L248 123.6 L260 123.5 L272 123.2 L274 123.1M115 135.5 L127 134.6 L139 133.3 L151 131.7 L163 130 L175 128.5 L187 127.5 L199 127 L211 126.8 L223 126.9 L235 127 L247 127 L259 126.9 L271 126.6 L274 126.5M148 135.4 L160 133.8 L172 132.4 L184 131.3 L196 130.7 L208 130.4 L220 130.4 L232 130.4 L244 130.4 L256 130.3 L268 130.1 L274 129.8M177 135.5 L189 134.6 L201 134.1 L213 133.9 L225 133.8 L237 133.8 L249 133.7 L261 133.5 L273 133.2 L274 133.2M0 65.8 L12 62.7 L24 59.5 L36 56.1 L48 52.4 L60 48.8 L72 45.7 L84 43.1 L96 41.2 L108 39.8 L120 39.2 L132 39.1 L144 39.2 L156 39.6 L168 40.1 L180 40.6 L192 41.2 L204 41.8 L216 42.2 L228 42.6 L240 42.8 L252 42.9 L264 42.9 L274 42.7M0 59.8 L12 56.9 L24 53.8 L36 50.6 L48 47.2 L60 43.8 L72 40.9 L84 38.4 L96 36.5 L108 35 L120 34.4 L132 34.2 L144 34.2 L156 34.5 L168 34.8 L180 35.3 L192 35.7 L204 36.2 L216 36.6 L228 36.8 L240 37 L252 37.1 L264 37 L274 36.8M0 53.7 L12 50.9 L24 48 L36 45.1 L48 41.8 L60 38.7 L72 35.9 L84 33.5 L96 31.6 L108 30.1 L120 29.4 L132 29.1 L144 29.1 L156 29.2 L168 29.4 L180 29.8 L192 30.1 L204 30.5 L216 30.8 L228 31 L240 31.1 L252 31.1 L264 31 L274 30.8M0 47.6 L12 44.9 L24 42.2 L36 39.4 L48 36.4 L60 33.4 L72 30.7 L84 28.4 L96 26.5 L108 24.9 L120 24.2 L132 23.9 L144 23.7 L156 23.8 L168 23.9 L180 24.1 L192 24.4 L204 24.6 L216 24.9 L228 25 L240 25.1 L252 25 L264 24.9 L274 24.7M0 41.4 L12 38.9 L24 36.3 L36 33.7 L48 30.8 L60 28 L72 25.4 L84 23.1 L96 21.2 L108 19.6 L120 18.8 L132 18.4 L144 18.2 L156 18.2 L168 18.2 L180 18.4 L192 18.5 L204 18.7 L216 18.9 L228 18.9 L240 18.9 L252 18.9 L264 18.7 L274 18.5M0 35.2 L12 32.8 L24 30.3 L36 27.9 L48 25.1 L60 22.4 L72 19.9 L84 17.7 L96 15.7 L108 14.1 L120 13.3 L132 12.9 L144 12.6 L156 12.5 L168 12.4 L180 12.5 L192 12.6 L204 12.7 L216 12.7 L228 12.8 L240 12.7 L252 12.6 L264 12.4 L274 12.2M0 28.9 L12 26.6 L24 24.2 L36 21.9 L48 19.3 L60 16.7 L72 14.2 L84 12 L96 10.1 L108 8.4 L120 7.6 L132 7.1 L144 6.8 L156 6.6 L168 6.5 L180 6.5 L192 6.5 L204 6.5 L216 6.5 L228 6.5 L240 6.4 L252 6.3 L264 6.1 L274 5.8M0 22.5 L12 20.3 L24 18.1 L36 15.9 L48 13.4 L60 10.8 L72 8.4 L84 6.3 L96 4.3 L108 2.6 L120 1.7 L132 1.2 L144 0.9 L156 0.6 L168 0.5 L180 0.4 L192 0.3 L204 0.3 L216 0.3 L228 0.2 L240 0.1 L252 -0.1 L264 -0.3 L274 -0.6M0 16.1 L12 14 L24 11.9 L36 9.9 L48 7.4 L60 4.9 L72 2.5 L84 0.4 L96 -1.6 L105 -2.9M0 9.7 L12 7.7 L24 5.7 L36 3.7 L48 1.4 L60 -1.1 L69 -2.9M0 3.3 L12 1.3 L24 -0.6 L36 -2.5 L39 -2.9" fill="none" stroke="#000" stroke-opacity="0.62" stroke-width="0.48"/>
<path d="M24.5 64.9L22.3 66.5L21.8 64.8ZM58.5 54.1L56.3 55.7L55.8 54ZM93.6 46L91.2 47.2L90.9 45.6ZM140.6 44L138 44.8L138.1 43.1ZM171.6 45.3L169 46.1L169.1 44.4ZM199.6 47L197 47.7L197.1 46ZM246.6 48.6L244 49.4L244.1 47.7ZM47.5 62.7L45.4 64.4L44.8 62.8ZM82.6 52.2L80.2 53.6L79.9 51.9ZM128.6 48.3L126 49.1L126 47.4ZM175.6 50.6L173 51.3L173.1 49.6ZM207.6 52.8L205 53.5L205.1 51.8ZM250.6 54.3L248 55.1L248 53.4ZM34.5 72.4L32.4 74.1L31.8 72.5ZM70.5 59.2L68.3 60.8L67.8 59.2ZM103.6 52.9L101.1 54L101 52.4ZM137.6 52.7L135 53.5L135.1 51.8ZM170.6 54.9L168 55.5L168.1 53.8ZM199.6 57.3L197 57.9L197.1 56.2ZM239.6 59.4L237 60.2L237.1 58.5ZM8.5 85.9L6.3 87.4L5.8 85.8ZM51.5 70.2L49.5 72L48.8 70.4ZM91.6 57.9L89.2 59.1L88.9 57.5ZM138.6 56.6L136 57.3L136.1 55.6ZM183.6 60.3L181 60.9L181.1 59.2ZM229.6 63.9L227 64.6L227.1 62.9ZM269.6 64.5L267 65.3L267 63.6ZM37.5 80.6L35.4 82.3L34.8 80.7ZM65.5 68.1L63.4 69.8L62.8 68.3ZM98.6 60L96.2 61.2L95.9 59.5ZM139.6 60.1L137 60.8L137.1 59.1ZM178.6 63.8L176 64.4L176.1 62.7ZM214.6 67.4L212 68L212.1 66.3ZM261.6 69L259 69.9L259 68.2ZM20.5 91.3L18.4 92.9L17.8 91.3ZM51.4 78L49.5 79.9L48.8 78.4ZM93.6 63.4L91.2 64.6L90.9 62.9ZM130.6 62.7L128 63.4L128.1 61.7ZM174.6 66.9L171.9 67.5L172.1 65.8ZM209.6 70.9L207 71.5L207.1 69.8ZM241.6 72.9L239 73.7L239.1 72ZM39.5 87.9L37.5 89.7L36.8 88.2ZM67.4 73.3L65.5 75.1L64.8 73.6ZM110.6 64.6L108.1 65.5L108 63.8ZM156.6 68L154 68.5L154.1 66.8ZM200.6 73.6L197.9 74.1L198.2 72.4ZM244.6 76.8L242 77.6L242.1 75.9ZM41.4 90.8L39.5 92.7L38.8 91.2ZM66.4 76.4L64.5 78.4L63.8 76.9ZM98.6 67.4L96.1 68.6L96 66.9ZM131.6 68.1L129 68.7L129.1 67ZM170.6 72.7L167.9 73.2L168.2 71.5ZM206.6 77.7L203.9 78.2L204.2 76.5ZM243.6 80.4L241 81.2L241.1 79.5ZM6.5 107.7L4.3 109.3L3.8 107.6ZM34.5 98L32.4 99.7L31.8 98.2ZM60.3 82.7L58.7 84.9L57.7 83.5ZM88.6 70.9L86.3 72.3L85.9 70.7ZM117.6 69.4L115 70.2L115.1 68.5ZM164.6 74.7L161.9 75.2L162.2 73.5ZM209.6 81.5L206.9 82L207.2 80.3ZM239.6 83.8L237 84.6L237.1 82.9ZM19.5 107.5L17.4 109.1L16.8 107.4ZM51.3 92.7L49.7 94.8L48.7 93.4ZM80.5 75L78.4 76.7L77.8 75.1ZM121.6 71.9L119 72.6L119.1 70.9ZM160.6 76.8L157.9 77.3L158.2 75.6ZM195.6 82.6L192.9 83L193.2 81.3ZM226.6 86.6L224 87.2L224.1 85.5ZM261.6 87.5L259 88.4L259 86.7ZM29.5 107.7L27.4 109.3L26.8 107.7ZM65.2 84.8L63.8 87.1L62.7 85.8ZM97.6 73.4L95.1 74.5L95 72.8ZM127.6 74.7L124.9 75.3L125.1 73.6ZM158.6 79L155.9 79.5L156.2 77.8ZM193.6 85.2L190.9 85.6L191.2 83.9ZM233.6 90.3L231 91L231.1 89.4ZM22.5 113.8L20.4 115.4L19.8 113.8ZM60.1 92.8L59 95.3L57.7 94.1ZM95.6 75.3L93.2 76.5L92.9 74.8ZM132.6 77.6L129.9 78.1L130.2 76.4ZM167.6 83.1L164.9 83.5L165.2 81.8ZM204.6 90.3L201.9 90.6L202.2 89ZM246.6 94L244 94.8L244.1 93.1ZM35.5 112.8L33.4 114.5L32.8 112.9ZM65 90.4L64.1 93L62.7 92ZM93.6 77.1L91.2 78.3L90.9 76.7ZM131.6 79.5L128.9 80L129.2 78.3ZM173.6 86.8L170.9 87.1L171.2 85.4ZM201.6 92.7L198.9 92.9L199.2 91.3ZM238.6 97L236 97.7L236.1 96ZM42.5 113.7L40.4 115.5L39.8 113.9ZM76.4 83.9L74.6 85.9L73.7 84.4ZM111.6 78.7L109 79.4L109.1 77.7ZM156.6 85.7L153.9 86.1L154.2 84.4ZM199.6 95.1L196.9 95.3L197.3 93.6ZM232.6 99.8L230 100.6L230.1 98.9ZM269.6 100L267.1 100.9L267 99.2ZM40.5 118.2L38.4 119.9L37.8 118.3ZM76.3 106.9L73.7 106.1L74.7 104.7ZM121.6 114L119.1 115.1L119 113.4ZM163.5 104L161.3 105.4L160.9 103.8ZM204.6 100.7L202 101.4L202.1 99.7ZM247.6 103.4L245 104.2L245 102.5ZM11.5 130.9L9.3 132.4L8.8 130.8ZM48.5 118.9L46.4 120.6L45.8 119ZM75.6 112.1L72.9 112.6L73.2 110.9ZM106.6 117.2L104 117.9L104.1 116.2ZM149.5 111.4L147.3 112.9L146.9 111.2ZM177.6 105.4L175.2 106.6L174.9 104.9ZM206.6 104.7L204 105.4L204.1 103.7ZM236.6 106.6L234 107.4L234.1 105.7ZM48.5 122.6L46.4 124.3L45.8 122.7ZM92.6 119.2L89.9 119.7L90.1 118ZM122.6 119.7L120.1 120.8L120 119.1ZM166.6 111.1L164.2 112.5L163.9 110.8ZM207.6 108.6L205 109.3L205.1 107.6ZM252.6 110.1L250 111L250 109.3ZM49.5 126.1L47.3 127.6L46.8 126ZM92.6 122.5L90 123.2L90.1 121.5ZM121.6 122.8L119.1 123.8L119 122.1ZM164.6 115.3L162.2 116.6L161.9 114.9ZM202.6 112.2L200 113L200 111.3ZM244.6 113.5L242 114.3L242 112.6ZM68.6 125.6L66.2 126.8L65.9 125.1ZM115.6 126.2L113.1 127.1L113 125.4ZM144.6 122.7L142.2 124L141.9 122.3ZM178.6 117L176.1 118.2L175.9 116.5ZM217.6 116.3L215 117.1L215.1 115.4ZM262.6 116.7L260.1 117.6L260 115.9ZM89.6 129.2L87 129.9L87.1 128.2ZM129.6 128.1L127.1 129.2L127 127.5ZM171.6 121.6L169.2 122.8L168.9 121.1ZM207.6 119.6L205 120.5L205 118.8ZM242.6 120.2L240 121.1L240 119.4ZM143.6 129.4L141.2 130.6L140.9 128.9ZM181.6 124.2L179.1 125.3L179 123.6ZM228.6 123.5L226 124.3L226.1 122.6ZM265.6 123.4L263.1 124.3L263 122.6ZM170.6 129L168.2 130.1L167.9 128.5ZM213.6 126.8L211 127.7L211 126ZM254.6 126.9L252 127.8L252 126.1ZM216.6 130.4L214 131.2L214 129.5ZM262.6 130.2L260.1 131.1L260 129.4ZM28.5 58.2L26.3 59.7L25.8 58.1ZM63.5 47.8L61.3 49.3L60.8 47.7ZM105.6 40L103.1 41.1L103 39.5ZM136.6 39.1L134 40L134 38.3ZM170.6 40.2L168 40.9L168.1 39.2ZM202.6 41.7L200 42.4L200.1 40.7ZM241.6 42.8L239 43.7L239.1 42ZM16.6 55.7L14.3 57.2L13.9 55.5ZM56.5 44.8L54.3 46.3L53.8 44.6ZM102.6 35.6L100.2 36.8L99.9 35.1ZM136.6 34.2L134 35L134 33.3ZM178.6 35.2L176 36L176.1 34.3ZM215.6 36.5L213 37.3L213.1 35.6ZM260.6 37L258 37.9L258 36.2ZM18.6 49.4L16.3 50.8L15.9 49.1ZM49.5 41.4L47.3 42.9L46.8 41.3ZM77.6 34.7L75.2 36.1L74.9 34.4ZM114.6 29.6L112.1 30.6L112 28.9ZM149.6 29.1L147 29.9L147 28.2ZM181.6 29.8L179 30.6L179.1 28.9ZM216.6 30.8L214 31.6L214.1 29.9ZM250.6 31.1L248 32L248 30.3ZM12.6 44.8L10.3 46.2L9.9 44.6ZM59.6 33.5L57.3 34.9L56.9 33.3ZM96.6 26.4L94.2 27.6L93.9 25.9ZM136.6 23.8L134.1 24.7L134 23ZM173.6 24L171 24.8L171.1 23.1ZM218.6 24.9L216 25.7L216.1 24ZM262.6 24.9L260.1 25.8L260 24.1ZM27.6 35.5L25.2 36.9L24.9 35.2ZM68.6 26.1L66.2 27.5L65.9 25.8ZM112.6 19.2L110.1 20.2L110 18.5ZM148.6 18.2L146 19.1L146 17.4ZM191.6 18.5L189 19.3L189.1 17.6ZM238.6 19L236 19.8L236 18.1ZM16.6 31.8L14.2 33.2L13.9 31.5ZM48.6 25L46.3 26.4L45.9 24.8ZM90.6 16.6L88.2 17.8L87.9 16.1ZM131.6 12.9L129.1 13.8L129 12.1ZM178.6 12.5L176 13.3L176 11.6ZM223.6 12.8L221 13.6L221 11.9ZM256.6 12.6L254.1 13.5L254 11.8ZM17.6 25.5L15.2 26.8L14.9 25.1ZM48.6 19.2L46.3 20.6L45.9 18.9ZM90.6 10.9L88.2 12.2L87.9 10.5ZM135.6 7L133.1 7.9L133 6.2ZM181.6 6.5L179 7.3L179 5.6ZM214.6 6.5L212 7.4L212 5.7ZM259.6 6.2L257.1 7.1L257 5.4ZM24.6 18L22.2 19.3L21.9 17.6ZM66.6 9.5L64.2 10.8L63.9 9.2ZM95.6 4.4L93.2 5.6L92.9 3.9ZM125.6 1.5L123.1 2.5L123 0.8ZM35.6 9.9L33.2 11.2L32.9 9.5ZM63.6 4.2L61.2 5.5L60.9 3.8ZM27.6 5.1L25.2 6.4L24.9 4.7Z" fill="#000" fill-opacity="0.75"/>
<path d="M0.35 0V132.5" stroke="#666" stroke-opacity="0.85" stroke-width="0.8"/>
<rect x="0.25" y="0.25" width="270.5" height="132.0" fill="none" stroke="#222" stroke-opacity="0.45" stroke-width="0.5"/>
</svg>
<svg class="pn" style="left:34.45px;top:153.4px" width="271.1" height="133.3" viewBox="0 0 271.0 132.5" preserveAspectRatio="none">
<rect x="-3" y="-3" width="277.0" height="138.5" fill="#00ff00"/>
<path fill="#dcff00" d="M0 32 C1.9 34.6 7.2 42.5 11.3 47.8 C15.4 53.1 19.6 58.6 24.4 63.6 C29.2 68.6 35 73.6 40.2 78 C45.5 82.4 51.6 86.7 55.9 89.8 C60.2 92.9 64.3 95.3 66 96.4 L184 93.6 C185.8 90 191.1 79.1 194.5 71.9 C197.9 64.7 201.3 58.4 204.5 50.2 C207.7 42.1 211.2 31.4 213.5 23 C215.8 14.6 217.8 3.8 218.6 0 L219.2 -3 L274.0 -3 L274.0 135.5 L-3 135.5 L-3 32 Z"/>
<path fill="#00ff8c" d="M64.7 97.7 C64.3 96.6 63 93.5 62.7 91.1 C62.4 88.7 62.6 85.9 63 83.5 C63.4 81.1 64 78.9 65.1 76.9 C66.2 74.8 67.5 73.4 69.4 71.1 C71.3 68.7 73.8 65.3 76.5 62.9 C79.2 60.5 82.7 58.4 85.8 56.9 C88.9 55.5 92.1 54.6 95 54.2 C97.9 53.7 100.5 53.9 103 54.3 C105.5 54.7 107.6 55.5 110 56.5 C112.4 57.6 114.7 58.7 117.2 60.5 C119.7 62.2 122.7 64.7 125.1 67.1 C127.5 69.6 130 72.5 131.7 75.1 C133.4 77.7 134.9 81.6 135.5 82.9 L133.5 92 L72 98 Z"/>
<path fill="#00ffe6" d="M65 97.7 C64.8 96.7 63.8 93.9 63.7 91.7 C63.6 89.5 63.9 86.7 64.6 84.6 C65.3 82.5 66.3 80.8 67.7 79.1 C69 77.5 70.6 76.3 72.6 74.7 C74.7 73.2 77.4 71.3 80 69.8 C82.6 68.4 85.6 66.9 88.1 66 C90.6 65.2 92.8 64.9 95 64.8 C97.2 64.7 98.9 64.9 101.5 65.4 C104.1 65.9 108.1 66.7 110.7 67.7 C113.3 68.8 115.4 70.3 117.2 71.9 C119 73.4 120.6 75.6 121.8 77.2 C123 78.8 124 80.8 124.5 81.6 L122.5 92 L72 98 Z"/>
<path fill="#10b4ff" d="M65.3 97.7 C65.2 96.8 64.6 94.4 64.6 92.4 C64.7 90.4 64.9 87.7 65.6 85.8 C66.3 83.9 67.4 82.4 68.8 81.1 C70.2 79.8 72 79 74 78 C76.1 77 78.6 76.1 81.2 75.1 C83.8 74.1 87.1 72.8 89.6 72.1 C92.1 71.5 94.1 71.1 96 71 C97.9 71 99.4 71.5 101 71.8 C102.6 72.1 103.8 72.3 105.4 72.8 C107 73.4 109.2 73.9 110.7 75.1 C112.2 76.4 113.9 79.4 114.5 80.2 L112.5 92 L72 98 Z"/>
<path fill="#1060f0" d="M65.7 97.7 C65.6 96.9 65.2 94.8 65.3 93 C65.5 91.2 65.9 88.8 66.8 87.2 C67.7 85.6 69.1 84.4 70.5 83.2 C71.9 82.1 73.5 81.2 75.4 80.3 C77.3 79.4 79.7 78.8 82.2 78 C84.7 77.1 88.3 75.8 90.6 75.3 C92.9 74.9 94.4 74.9 96 75.1 C97.6 75.2 98.9 75.8 100 76.3 C101.1 76.8 101.7 77.1 102.8 77.9 C103.9 78.7 105.9 80.5 106.5 81 L104.5 92 L72 98 Z"/>
<path fill="#1010f0" d="M66 97.7 C66.1 97.2 66.1 95.7 66.5 94.2 C66.9 92.8 67.6 90.6 68.6 89 C69.5 87.5 70.7 86.1 72.1 84.9 C73.5 83.8 75 82.9 77 81.9 C79 81 82 79.7 84.3 79.1 C86.6 78.4 89.2 78.1 91 78 C92.8 78 93.7 78.5 94.9 78.9 C96.1 79.4 97.5 80.6 98 80.9 L96 92 L72 98 Z"/>
<path fill="#ffb400" d="M0 128.5 C0.8 127.2 2.2 123.7 4.5 120.6 C6.8 117.5 10.5 112.8 13.5 109.8 C16.5 106.8 19.5 104.5 22.5 102.6 C25.5 100.6 28.2 99.4 31.5 98.1 C34.8 96.8 38.7 95.3 42.3 94.5 C45.9 93.7 49.9 93.3 53.2 93.3 C56.5 93.3 60.1 94.2 62.2 94.7 C64.3 95.2 65.4 96.1 66 96.4 L92.4 112 L101.4 135.5 L-3 135.5 L-3 130.5 Z"/>
<path fill="#ffb400" d="M148 135.5 L148.6 105 L200 100.4 L211 101.1  L211 101.1 C211.5 100.5 212.9 98.5 214 97.6 C215.1 96.7 215.9 96.3 217.3 95.9 C218.7 95.5 220.9 95.2 222.5 95.3 C224.1 95.4 225.4 95.6 227 96.5 C228.6 97.4 230.3 98.6 232 100.8 C233.7 103 235.5 106.3 237.2 109.5 C238.9 112.7 240.9 116.2 242.3 120 C243.7 123.8 244.9 129.9 245.6 132.5 C246.2 135.1 246.1 135 246.2 135.5 L246.2 135.5 Z"/>
<circle cx="66" cy="115.5" r="16.8" fill="#ff5a00"/>
<circle cx="67.4" cy="105.2" r="6.7" fill="#ff0000"/>
<path d="M170.1 99V100.3A15.2 6 0 0 0 200.5 100.3V99.4Z" fill="#ff5a00"/>
<ellipse cx="118.2" cy="113.4" rx="10.8" ry="2.9" fill="#00ff00"/>
<path fill="#fff" d="M211 101 L210.9 101 L210.6 100.9 L210.1 100.7 L209.3 100.5 L208.4 100.2 L207.3 99.9 L205.9 99.5 L204.4 99.1 L202.7 98.6 L200.8 98.1 L198.7 97.5 L196.4 96.9 L194 96.3 L191.4 95.6 L188.6 95 L185.7 94.3 L182.7 93.6 L179.5 92.9 L176.1 92.2 L172.7 91.4 L169.2 90.6 L165.6 89.7 L161.9 88.9 L158.1 88.1 L154.2 87.4 L150.3 86.7 L146.3 86 L142.3 85.4 L138.3 84.7 L134.3 84 L130.3 83.3 L126.3 82.6 L122.3 81.8 L118.4 81.1 L114.5 80.6 L110.6 80.3 L106.8 80.1 L103.1 79.8 L99.5 79.7 L96 79.8 L92.6 80.2 L89.4 80.7 L86.3 81.4 L83.5 82.4 L80.9 83.5 L78.4 84.6 L76.2 85.7 L74.1 86.9 L72.3 88.1 L70.8 89.3 L69.5 90.6 L68.4 91.7 L67.6 92.8 L67 93.8 L66.6 94.7 L66.4 95.5 L66.2 96 L66.1 96.3 L66.1 96.4 L66.1 96.5 L66.2 96.8 L66.3 97.4 L66.6 98.1 L67 98.9 L67.8 99.8 L68.8 100.7 L70.1 101.7 L71.5 102.8 L73 104 L74.7 105.3 L76.7 106.6 L78.8 107.9 L81.2 109.2 L83.8 110.2 L86.6 111.1 L89.7 111.8 L92.9 112.3 L96.2 112.8 L99.7 113.3 L103.3 113.7 L106.9 114 L110.7 114.1 L114.6 114 L118.5 113.9 L122.4 113.6 L126.4 113.1 L130.4 112.4 L134.3 111.6 L138.3 110.6 L142.2 109.5 L146 108.4 L149.9 107.2 L153.7 106.1 L157.4 105 L161.1 104 L164.8 103 L168.4 102.2 L171.9 101.5 L175.4 101 L178.7 100.5 L181.9 100.2 L185.1 100 L188 99.8 L190.9 99.7 L193.5 99.7 L196 99.8 L198.4 99.9 L200.5 100 L202.5 100.2 L204.2 100.3 L205.8 100.5 L207.2 100.6 L208.3 100.7 L209.3 100.8 L210 100.9 L210.6 101 L210.9 101 L211 101Z"/>
<path d="M0 60 L12 57.1 L24 54 L36 50.8 L48 47.4 L60 44 L72 41.1 L84 38.6 L96 36.7 L108 35.2 L120 34.6 L132 34.4 L144 34.4 L156 34.7 L168 35 L180 35.5 L192 35.9 L204 36.4 L216 36.8 L228 37 L240 37.2 L252 37.3 L264 37.2 L274 37M0 65.4 L12 62.4 L24 59.1 L36 55.7 L48 52.1 L60 48.5 L72 45.4 L84 42.9 L96 40.9 L108 39.5 L120 38.9 L132 38.8 L144 39 L156 39.3 L168 39.8 L180 40.3 L192 40.9 L204 41.4 L216 41.9 L228 42.3 L240 42.5 L252 42.6 L264 42.5 L274 42.4M0 70.8 L12 67.6 L24 64.2 L36 60.6 L48 56.7 L60 52.9 L72 49.6 L84 47 L96 45 L108 43.6 L120 43.1 L132 43.1 L144 43.4 L156 43.8 L168 44.4 L180 45.1 L192 45.7 L204 46.4 L216 47 L228 47.4 L240 47.7 L252 47.8 L264 47.8 L274 47.6M0 76.2 L12 72.9 L24 69.3 L36 65.5 L48 61.3 L60 57.2 L72 53.7 L84 50.9 L96 48.9 L108 47.6 L120 47.2 L132 47.2 L144 47.6 L156 48.2 L168 48.9 L180 49.7 L192 50.5 L204 51.3 L216 51.9 L228 52.4 L240 52.8 L252 52.9 L264 52.9 L274 52.8M0 81.5 L12 78.1 L24 74.4 L36 70.3 L48 65.8 L60 61.4 L72 57.6 L84 54.7 L96 52.6 L108 51.4 L120 51.1 L132 51.2 L144 51.7 L156 52.4 L168 53.3 L180 54.2 L192 55.2 L204 56.1 L216 56.8 L228 57.4 L240 57.8 L252 58 L264 58 L274 57.9M0 86.7 L12 83.3 L24 79.5 L36 75.2 L48 70.3 L60 65.5 L72 61.3 L84 58.2 L96 56.2 L108 55 L120 54.8 L132 55.1 L144 55.7 L156 56.6 L168 57.6 L180 58.6 L192 59.7 L204 60.8 L216 61.6 L228 62.3 L240 62.7 L252 63 L264 63 L274 62.9M0 91.9 L12 88.5 L24 84.5 L36 80 L48 74.8 L59 69.9 L71 65.3 L83 61.9 L95 59.7 L107 58.6 L119 58.4 L131 58.8 L143 59.5 L155 60.5 L167 61.6 L179 62.9 L191 64.1 L203 65.3 L215 66.3 L227 67.1 L239 67.6 L251 67.8 L263 67.9 L274 67.8M0 97.1 L12 93.6 L24 89.6 L36 84.9 L47 79.8 L58 74.3 L69 69.5 L81 65.6 L93 63.1 L105 61.9 L117 61.7 L129 62.2 L141 63.1 L153 64.2 L165 65.4 L177 66.8 L189 68.2 L201 69.6 L213 70.8 L225 71.7 L237 72.3 L249 72.6 L261 72.7 L273 72.6 L274 72.6M0 102.2 L12 98.7 L24 94.6 L36 89.9 L47 84.4 L58 78.3 L69 72.9 L81 68.6 L93 66.1 L105 65 L117 64.9 L129 65.6 L141 66.6 L153 67.9 L165 69.3 L177 70.8 L189 72.4 L201 74 L213 75.3 L225 76.3 L237 77 L249 77.3 L261 77.4 L273 77.3 L274 77.3M0 107.2 L12 103.7 L24 99.7 L36 94.9 L47 89.2 L58 82.3 L69 76.1 L81 71.5 L93 68.9 L105 67.9 L117 68 L129 68.8 L141 70 L153 71.4 L165 73 L177 74.7 L189 76.5 L201 78.2 L213 79.8 L225 80.9 L237 81.6 L249 81.9 L261 82 L273 81.9 L274 81.8M0 112.2 L12 108.7 L24 104.7 L36 99.9 L47 94.2 L57 87.3 L67 80.4 L77 75.6 L88 72.4 L100 70.8 L112 70.7 L124 71.4 L136 72.7 L148 74.2 L160 75.9 L172 77.7 L184 79.7 L196 81.6 L208 83.5 L220 84.9 L232 85.8 L244 86.3 L256 86.5 L268 86.4 L274 86.3M0 117 L12 113.6 L24 109.7 L36 105 L47 99.5 L54 94.6 L64 85.8 L70 81.7 L79 77.5 L89 74.6 L101 73.3 L113 73.4 L125 74.4 L137 76 L149 77.6 L161 79.4 L173 81.5 L185 83.7 L197 85.8 L209 87.9 L221 89.4 L233 90.3 L245 90.7 L257 90.9 L269 90.8 L274 90.7M0 121.8 L12 118.4 L24 114.6 L36 110.1 L47 105 L53 101.2 L57 97.7 L64 89.6 L68 86.1 L74 82.3 L83 78.4 L92 76.3 L104 75.6 L116 76.2 L128 77.7 L140 79.4 L152 81.2 L164 83.3 L176 85.6 L188 88 L200 90.4 L212 92.7 L224 94.1 L236 94.8 L248 95.1 L260 95.1 L272 95 L274 94.9M0 126.6 L12 123.2 L24 119.5 L36 115.3 L48 110.1 L55 106.1 L58 103.9 L60 101.9 L61 100.6 L62 98.9 L64 94.5 L65 92.8 L67 90.2 L70 87.4 L75 84.2 L83 80.6 L91 78.6 L102 77.8 L114 78.5 L126 80.1 L138 82.1 L150 84 L162 86.1 L174 88.7 L186 91.2 L198 93.9 L210 96.7 L222 98.3 L234 99 L246 99.3 L258 99.4 L270 99.2 L274 99.1M0 131.2 L12 127.9 L24 124.3 L36 120.3 L48 115.7 L59 110.6 L68 105.4 L69 105 L70 104.7 L71 104.8 L73 105.5 L81 109.8 L87 111.9 L99 113.9 L111 114.8 L123 114.2 L135 112.3 L147 109.1 L159 105.6 L171 102.8 L183 101.2 L195 100.7 L207 101.4 L219 102.7 L231 103.4 L243 103.8 L255 103.8 L267 103.6 L274 103.5M2 135.3 L14 132 L26 128.4 L38 124.6 L50 120.4 L62 116.2 L68 114.8 L72 114.5 L84 116.3 L96 118 L108 118.9 L120 118.6 L132 117.1 L144 114.6 L156 111.7 L168 109.1 L180 107.3 L192 106.5 L204 106.7 L216 107.5 L228 108.1 L240 108.5 L252 108.6 L264 108.5 L274 108.2M19 135.2 L31 131.7 L43 128 L55 124.3 L67 121.5 L76 121 L88 122 L100 122.9 L112 123.1 L124 122.4 L136 120.8 L148 118.5 L160 116 L172 113.9 L184 112.5 L196 112 L208 112.2 L220 112.7 L232 113.1 L244 113.3 L256 113.3 L268 113.1 L274 113M35 135.3 L47 131.8 L59 128.8 L71 126.9 L83 126.7 L95 127.2 L107 127.5 L119 127.1 L131 126 L143 124.2 L155 122 L167 119.9 L179 118.4 L191 117.5 L203 117.3 L215 117.5 L227 117.8 L239 118.1 L251 118.1 L263 118 L274 117.7M53 135.4 L65 133.1 L77 132 L89 131.9 L101 132 L113 131.8 L125 131 L137 129.7 L149 127.9 L161 126 L173 124.3 L185 123.2 L197 122.6 L209 122.5 L221 122.6 L233 122.8 L245 122.9 L257 122.8 L269 122.6 L274 122.4M125 135.4 L137 134.2 L149 132.6 L161 130.9 L173 129.4 L185 128.4 L197 127.7 L209 127.5 L221 127.6 L233 127.7 L245 127.7 L257 127.6 L269 127.4 L274 127.2M164 135.5 L176 134.2 L188 133.3 L200 132.7 L212 132.5 L224 132.5 L236 132.5 L248 132.4 L260 132.3 L272 132 L274 131.9M0 48.9 L12 46.2 L24 43.4 L36 40.6 L48 37.6 L60 34.5 L72 31.8 L84 29.5 L96 27.6 L108 26 L120 25.3 L132 25 L144 24.9 L156 24.9 L168 25.1 L180 25.3 L192 25.6 L204 25.9 L216 26.1 L228 26.3 L240 26.4 L252 26.3 L264 26.2 L274 26M0 43.4 L12 40.8 L24 38.1 L36 35.5 L48 32.6 L60 29.7 L72 27.1 L84 24.8 L96 22.9 L108 21.3 L120 20.5 L132 20.2 L144 20 L156 20 L168 20 L180 20.2 L192 20.4 L204 20.6 L216 20.7 L228 20.8 L240 20.9 L252 20.8 L264 20.7 L274 20.5M0 37.8 L12 35.3 L24 32.8 L36 30.3 L48 27.5 L60 24.7 L72 22.2 L84 19.9 L96 18 L108 16.4 L120 15.6 L132 15.2 L144 14.9 L156 14.8 L168 14.8 L180 14.9 L192 15 L204 15.2 L216 15.3 L228 15.3 L240 15.3 L252 15.2 L264 15 L274 14.8M0 32.1 L12 29.7 L24 27.3 L36 24.9 L48 22.2 L60 19.6 L72 17.1 L84 14.9 L96 13 L108 11.3 L120 10.5 L132 10 L144 9.7 L156 9.6 L168 9.5 L180 9.5 L192 9.6 L204 9.6 L216 9.7 L228 9.7 L240 9.6 L252 9.5 L264 9.3 L274 9.1M0 26.3 L12 24 L24 21.7 L36 19.5 L48 16.9 L60 14.3 L72 11.9 L84 9.7 L96 7.7 L108 6 L120 5.2 L132 4.7 L144 4.4 L156 4.2 L168 4.1 L180 4 L192 4 L204 4 L216 4 L228 3.9 L240 3.8 L252 3.7 L264 3.5 L274 3.2M0 20.4 L12 18.2 L24 16.1 L36 13.9 L48 11.4 L60 8.9 L72 6.5 L84 4.3 L96 2.4 L108 0.6 L120 -0.2 L132 -0.7 L144 -1.1 L156 -1.4 L168 -1.5 L180 -1.7 L192 -1.7 L204 -1.8 L216 -1.8 L228 -1.9 L240 -2.1 L252 -2.2 L264 -2.5 L274 -2.7M0 14.5 L12 12.4 L24 10.3 L36 8.3 L48 5.8 L60 3.3 L72 1 L84 -1.2 L95 -3M0 8.4 L12 6.4 L24 4.5 L36 2.5 L48 0.1 L60 -2.3 L63 -2.9M0 2.3 L12 0.4 L24 -1.5 L33 -2.9" fill="none" stroke="#000" stroke-opacity="0.62" stroke-width="0.48"/>
<path d="M23.5 54.1L21.3 55.6L20.9 53.9ZM60.5 43.9L58.3 45.3L57.9 43.7ZM90.6 37.5L88.2 38.7L87.9 37.1ZM123.6 34.5L121.1 35.4L121 33.7ZM164.6 34.9L162 35.7L162.1 34ZM195.6 36.1L193 36.8L193.1 35.1ZM240.6 37.2L238 38L238 36.3ZM10.5 62.8L8.3 64.2L7.9 62.6ZM55.5 49.8L53.3 51.4L52.8 49.7ZM90.6 41.7L88.2 43L87.9 41.3ZM133.6 38.8L131 39.7L131 38ZM176.6 40.1L174 40.9L174.1 39.2ZM210.6 41.7L208 42.4L208.1 40.7ZM252.6 42.6L250 43.4L250 41.7ZM40.5 59.2L38.3 60.8L37.8 59.2ZM71.5 49.7L69.3 51.2L68.9 49.5ZM114.6 43.3L112.1 44.2L112 42.5ZM161.6 44.1L159 44.8L159.1 43.1ZM203.6 46.4L201 47.1L201.1 45.4ZM241.6 47.7L239 48.5L239.1 46.8ZM21.5 70.1L19.3 71.6L18.8 70ZM61.5 56.7L59.3 58.3L58.8 56.7ZM102.6 48.1L100.1 49.2L99.9 47.6ZM141.6 47.5L139 48.3L139.1 46.6ZM172.6 49.2L170 49.9L170.1 48.2ZM213.6 51.8L211 52.5L211.1 50.8ZM254.6 52.9L252 53.8L252 52.1ZM43.5 67.6L41.4 69.3L40.8 67.7ZM82.6 54.9L80.3 56.3L79.9 54.7ZM112.6 51.2L110.1 52.1L110 50.4ZM158.6 52.6L156 53.3L156.1 51.6ZM189.6 55L187 55.6L187.1 53.9ZM224.6 57.3L222 58L222.1 56.3ZM266.6 58L264 58.8L264 57.1ZM29.5 77.6L27.4 79.2L26.8 77.6ZM67.5 62.7L65.4 64.4L64.8 62.8ZM103.6 55.4L101.1 56.5L101 54.8ZM138.6 55.4L136 56.1L136.1 54.4ZM169.6 57.7L167 58.3L167.1 56.6ZM198.6 60.3L196 60.9L196.1 59.2ZM241.6 62.8L239 63.6L239.1 61.9ZM29.5 82.5L27.4 84.2L26.8 82.6ZM68.5 66.1L66.4 67.8L65.8 66.2ZM102.6 58.9L100.1 59.9L100 58.3ZM135.6 59L133 59.7L133.1 58ZM171.6 62.1L169 62.7L169.1 61ZM216.6 66.4L214 67.1L214.1 65.4ZM245.6 67.8L243 68.5L243.1 66.8ZM16.5 92.2L14.3 93.7L13.8 92.1ZM56.4 75.1L54.5 77L53.8 75.5ZM89.6 63.7L87.2 65L86.9 63.4ZM124.6 62L122 62.7L122.1 61ZM160.6 65L158 65.5L158.1 63.8ZM198.6 69.3L196 69.9L196.1 68.2ZM242.6 72.5L240 73.2L240.1 71.6ZM41.4 87.4L39.5 89.2L38.8 87.7ZM67.4 73.5L65.5 75.4L64.8 73.9ZM99.6 65.3L97.1 66.5L97 64.8ZM129.6 65.6L127 66.3L127.1 64.6ZM159.6 68.6L156.9 69.2L157.1 67.5ZM203.6 74.3L200.9 74.8L201.1 73.1ZM245.6 77.2L243 78L243.1 76.3ZM14.5 102.9L12.3 104.5L11.8 102.9ZM48.4 88.4L46.6 90.4L45.7 88.9ZM86.6 70.1L84.3 71.5L83.9 69.9ZM130.6 69L128 69.6L128.1 67.9ZM172.6 74.1L169.9 74.6L170.2 72.9ZM212.6 79.7L209.9 80.3L210.1 78.6ZM243.6 81.8L241 82.6L241.1 80.9ZM14.5 107.9L12.3 109.4L11.8 107.8ZM50.3 92.1L48.6 94.2L47.7 92.7ZM84.5 73.2L82.3 74.7L81.8 73.1ZM115.6 70.8L113 71.5L113.1 69.8ZM148.6 74.3L145.9 74.8L146.2 73.1ZM191.6 80.9L188.9 81.3L189.2 79.7ZM220.6 85L218 85.6L218.1 83.9ZM264.6 86.4L262 87.3L262 85.6ZM45.4 100.4L43.6 102.4L42.8 100.9ZM73.4 79.9L71.6 81.8L70.8 80.3ZM111.6 73.3L109 74.1L109.1 72.4ZM151.6 78L148.9 78.5L149.2 76.8ZM191.6 84.8L188.9 85.2L189.2 83.6ZM238.6 90.6L236 91.3L236.1 89.6ZM19.5 116.1L17.3 117.7L16.8 116ZM59.1 95.5L58 97.9L56.7 96.8ZM90.6 76.5L88.2 77.9L87.9 76.2ZM129.6 77.9L126.9 78.4L127.2 76.7ZM171.6 84.7L168.9 85.1L169.2 83.4ZM199.6 90.3L196.9 90.6L197.2 89ZM242.6 95L240 95.8L240.1 94.1ZM27.5 118.3L25.4 119.9L24.8 118.3ZM61.1 100.7L60 103.2L58.7 102ZM88.5 79L86.3 80.5L85.9 78.8ZM120.6 79.2L117.9 79.7L118.2 78.1ZM158.6 85.4L155.9 85.8L156.2 84.2ZM186.6 91.3L183.9 91.6L184.2 89.9ZM223.6 98.5L221 99.1L221.1 97.4ZM264.6 99.3L262.1 100.2L262 98.5ZM30.5 122.2L28.4 123.8L27.8 122.2ZM73.5 105.5L70.8 105.6L71.3 104ZM117.6 114.6L115.1 115.6L115 113.9ZM147.5 108.9L145.3 110.4L144.8 108.8ZM190.6 100.7L188.1 101.7L188 100ZM230.6 103.4L228 104.1L228.1 102.4ZM259.6 103.8L257 104.6L257 102.9ZM18.5 130.7L16.3 132.2L15.8 130.6ZM46.5 121.6L44.4 123.3L43.8 121.7ZM84.6 116.4L81.9 116.8L82.2 115.1ZM130.6 117.4L128.2 118.6L127.9 116.9ZM164.6 109.7L162.2 111.1L161.9 109.5ZM209.6 107L207 107.7L207.1 106ZM251.6 108.6L249 109.4L249 107.7ZM61.6 122.5L59.3 124L58.9 122.3ZM100.6 122.9L98 123.6L98.1 121.9ZM147.6 118.6L145.2 119.9L144.9 118.3ZM188.6 112.2L186.1 113.2L186 111.5ZM231.6 113.1L229 113.9L229.1 112.2ZM266.6 113.2L264.1 114.1L264 112.4ZM81.6 126.7L79 127.5L79.1 125.8ZM126.6 126.5L124.1 127.6L124 125.9ZM162.6 120.7L160.2 121.9L159.9 120.3ZM205.6 117.3L203 118.1L203 116.4ZM243.6 118.1L241 118.9L241 117.2ZM126.6 130.9L124.1 131.9L124 130.2ZM163.6 125.6L161.2 126.8L160.9 125.1ZM205.6 122.5L203 123.3L203 121.6ZM244.6 122.9L242 123.7L242 122ZM159.6 131.1L157.2 132.3L156.9 130.6ZM193.6 127.9L191.1 128.8L191 127.1ZM230.6 127.6L228 128.5L228 126.8ZM22.6 43.8L20.3 45.2L19.9 43.5ZM59.6 34.6L57.3 36.1L56.9 34.4ZM99.6 27.1L97.2 28.3L96.9 26.6ZM131.6 25L129.1 25.9L129 24.2ZM159.6 25L157 25.8L157 24.1ZM191.6 25.6L189 26.4L189.1 24.7ZM235.6 26.3L233 27.2L233 25.5ZM266.6 26.2L264.1 27.1L264 25.4ZM15.6 40L13.2 41.4L12.9 39.7ZM46.6 32.9L44.3 34.4L43.9 32.7ZM77.6 26L75.2 27.3L74.9 25.6ZM112.6 20.9L110.1 21.9L110 20.2ZM144.6 20L142 20.9L142 19.2ZM172.6 20.1L170 20.9L170 19.2ZM202.6 20.6L200 21.4L200.1 19.7ZM234.6 20.9L232 21.7L232 20ZM7.6 36.2L5.2 37.6L4.9 35.9ZM44.6 28.3L42.3 29.8L41.9 28.1ZM79.6 20.7L77.2 22L76.9 20.3ZM120.6 15.6L118.1 16.5L118 14.8ZM149.6 14.9L147 15.7L147 14ZM186.6 15L184 15.8L184 14.1ZM221.6 15.3L219 16.1L219 14.4ZM250.6 15.2L248 16.1L248 14.4ZM16.6 28.8L14.2 30.1L13.9 28.4ZM45.6 22.8L43.3 24.2L42.9 22.6ZM82.6 15.1L80.2 16.4L79.9 14.7ZM113.6 10.8L111.1 11.8L111 10.1ZM153.6 9.6L151.1 10.5L151 8.8ZM188.6 9.5L186 10.4L186 8.7ZM218.6 9.7L216 10.5L216 8.8ZM247.6 9.5L245 10.4L245 8.7ZM18.6 22.8L16.2 24.1L15.9 22.4ZM61.6 14L59.2 15.3L58.9 13.6ZM98.6 7.3L96.2 8.6L95.9 6.9ZM144.6 4.4L142.1 5.3L142 3.6ZM178.6 4L176 4.9L176 3.2ZM211.6 4L209 4.8L209 3.1ZM244.6 3.8L242 4.7L242 3ZM33.6 14.4L31.2 15.6L30.9 14ZM67.6 7.3L65.2 8.7L64.9 7ZM97.6 2.1L95.2 3.4L94.9 1.7ZM10.6 12.6L8.2 13.9L7.9 12.2ZM41.6 7.3L39.2 8.6L38.9 6.9ZM69.6 1.4L67.2 2.8L66.9 1.1ZM34.6 2.7L32.2 4L31.9 2.3Z" fill="#000" fill-opacity="0.75"/>
<path d="M-1 54.6 C1.2 54.1 7.8 52.6 12 51.6 C16.2 50.6 20 49.6 24 48.7 C28 47.7 32 46.7 36 45.7 C40 44.6 44 43.5 48 42.4 C52 41.4 56 40.3 60 39.3 C64 38.3 68 37.3 72 36.5 C76 35.6 80 34.8 84 34.1 C88 33.4 92 32.7 96 32.1 C100 31.6 104 31 108 30.6 C112 30.3 116 30.1 120 30 C124 29.8 128 29.7 132 29.7 C136 29.6 140 29.6 144 29.7 C148 29.7 152 29.7 156 29.8 C160 29.9 164 30 168 30 C172 30.1 176 30.3 180 30.4 C184 30.5 188 30.6 192 30.7 C196 30.9 200 31 204 31.1 C208 31.2 212 31.3 216 31.4 C220 31.5 224 31.6 228 31.6 C232 31.7 236 31.7 240 31.7 C244 31.8 248 31.8 252 31.8 C256 31.7 260.7 31.7 264 31.7 C267.3 31.6 270.7 31.5 272 31.5" fill="none" stroke="#000" stroke-opacity="0.15" stroke-width="3.6"/>
<path d="M-1 54.6 C1.2 54.1 7.8 52.6 12 51.6 C16.2 50.6 20 49.6 24 48.7 C28 47.7 32 46.7 36 45.7 C40 44.6 44 43.5 48 42.4 C52 41.4 56 40.3 60 39.3 C64 38.3 68 37.3 72 36.5 C76 35.6 80 34.8 84 34.1 C88 33.4 92 32.7 96 32.1 C100 31.6 104 31 108 30.6 C112 30.3 116 30.1 120 30 C124 29.8 128 29.7 132 29.7 C136 29.6 140 29.6 144 29.7 C148 29.7 152 29.7 156 29.8 C160 29.9 164 30 168 30 C172 30.1 176 30.3 180 30.4 C184 30.5 188 30.6 192 30.7 C196 30.9 200 31 204 31.1 C208 31.2 212 31.3 216 31.4 C220 31.5 224 31.6 228 31.6 C232 31.7 236 31.7 240 31.7 C244 31.8 248 31.8 252 31.8 C256 31.7 260.7 31.7 264 31.7 C267.3 31.6 270.7 31.5 272 31.5" transform="translate(0 -1.35)" fill="none" stroke="#000" stroke-opacity="0.36" stroke-width="0.45"/>
<path d="M-1 54.6 C1.2 54.1 7.8 52.6 12 51.6 C16.2 50.6 20 49.6 24 48.7 C28 47.7 32 46.7 36 45.7 C40 44.6 44 43.5 48 42.4 C52 41.4 56 40.3 60 39.3 C64 38.3 68 37.3 72 36.5 C76 35.6 80 34.8 84 34.1 C88 33.4 92 32.7 96 32.1 C100 31.6 104 31 108 30.6 C112 30.3 116 30.1 120 30 C124 29.8 128 29.7 132 29.7 C136 29.6 140 29.6 144 29.7 C148 29.7 152 29.7 156 29.8 C160 29.9 164 30 168 30 C172 30.1 176 30.3 180 30.4 C184 30.5 188 30.6 192 30.7 C196 30.9 200 31 204 31.1 C208 31.2 212 31.3 216 31.4 C220 31.5 224 31.6 228 31.6 C232 31.7 236 31.7 240 31.7 C244 31.8 248 31.8 252 31.8 C256 31.7 260.7 31.7 264 31.7 C267.3 31.6 270.7 31.5 272 31.5" transform="translate(0 -0.45)" fill="none" stroke="#000" stroke-opacity="0.36" stroke-width="0.45"/>
<path d="M-1 54.6 C1.2 54.1 7.8 52.6 12 51.6 C16.2 50.6 20 49.6 24 48.7 C28 47.7 32 46.7 36 45.7 C40 44.6 44 43.5 48 42.4 C52 41.4 56 40.3 60 39.3 C64 38.3 68 37.3 72 36.5 C76 35.6 80 34.8 84 34.1 C88 33.4 92 32.7 96 32.1 C100 31.6 104 31 108 30.6 C112 30.3 116 30.1 120 30 C124 29.8 128 29.7 132 29.7 C136 29.6 140 29.6 144 29.7 C148 29.7 152 29.7 156 29.8 C160 29.9 164 30 168 30 C172 30.1 176 30.3 180 30.4 C184 30.5 188 30.6 192 30.7 C196 30.9 200 31 204 31.1 C208 31.2 212 31.3 216 31.4 C220 31.5 224 31.6 228 31.6 C232 31.7 236 31.7 240 31.7 C244 31.8 248 31.8 252 31.8 C256 31.7 260.7 31.7 264 31.7 C267.3 31.6 270.7 31.5 272 31.5" transform="translate(0 0.45)" fill="none" stroke="#000" stroke-opacity="0.36" stroke-width="0.45"/>
<path d="M-1 54.6 C1.2 54.1 7.8 52.6 12 51.6 C16.2 50.6 20 49.6 24 48.7 C28 47.7 32 46.7 36 45.7 C40 44.6 44 43.5 48 42.4 C52 41.4 56 40.3 60 39.3 C64 38.3 68 37.3 72 36.5 C76 35.6 80 34.8 84 34.1 C88 33.4 92 32.7 96 32.1 C100 31.6 104 31 108 30.6 C112 30.3 116 30.1 120 30 C124 29.8 128 29.7 132 29.7 C136 29.6 140 29.6 144 29.7 C148 29.7 152 29.7 156 29.8 C160 29.9 164 30 168 30 C172 30.1 176 30.3 180 30.4 C184 30.5 188 30.6 192 30.7 C196 30.9 200 31 204 31.1 C208 31.2 212 31.3 216 31.4 C220 31.5 224 31.6 228 31.6 C232 31.7 236 31.7 240 31.7 C244 31.8 248 31.8 252 31.8 C256 31.7 260.7 31.7 264 31.7 C267.3 31.6 270.7 31.5 272 31.5" transform="translate(0 1.35)" fill="none" stroke="#000" stroke-opacity="0.36" stroke-width="0.45"/>
<path d="M4.3 51.5l3.4 3M4.3 54.5l3.4 -3M31.3 44.9l3.4 3M31.3 47.9l3.4 -3M58.3 37.8l3.4 3M58.3 40.8l3.4 -3M86.3 31.9l3.4 3M86.3 34.9l3.4 -3M110.3 28.9l3.4 3M110.3 31.9l3.4 -3M138.3 28.2l3.4 3M138.3 31.2l3.4 -3M165.3 28.5l3.4 3M165.3 31.5l3.4 -3M194.3 29.4l3.4 3M194.3 32.4l3.4 -3M220.3 30l3.4 3M220.3 33l3.4 -3M248.3 30.3l3.4 3M248.3 33.3l3.4 -3" fill="none" stroke="#000" stroke-opacity="0.55" stroke-width="0.6"/>
<rect x="0.25" y="0.25" width="270.5" height="132.0" fill="none" stroke="#222" stroke-opacity="0.45" stroke-width="0.5"/>
</svg>
<svg class="ch" width="550" height="305" viewBox="0 0 550 305">
<rect x="330.2" y="155.4" width="178.8" height="109.6" fill="#fff" stroke="#868686" stroke-width="0.6"/>
<path d="M330.2 265.0v-2M330.2 155.4v2M389.7 265.0v-2M389.7 155.4v2M449.2 265.0v-2M449.2 155.4v2M508.7 265.0v-2M508.7 155.4v2M330.2 171.4h2M509.0 171.4h-2M330.2 187h2M509.0 187h-2M330.2 202.6h2M509.0 202.6h-2M330.2 218.2h2M509.0 218.2h-2M330.2 233.8h2M509.0 233.8h-2M330.2 249.4h2M509.0 249.4h-2M330.2 265h2M509.0 265h-2" stroke="#868686" stroke-width="0.6" fill="none"/>
<text x="330.2" y="275.3" font-size="7.4" text-anchor="middle" fill="#262626">-2</text>
<text x="389.7" y="275.3" font-size="7.4" text-anchor="middle" fill="#262626">-1.5</text>
<text x="449.2" y="275.3" font-size="7.4" text-anchor="middle" fill="#262626">-1</text>
<text x="508.7" y="275.3" font-size="7.4" text-anchor="middle" fill="#262626">-0.5</text>
<text x="327.6" y="174" font-size="7.4" text-anchor="end" fill="#262626">0.1</text>
<text x="327.6" y="189.6" font-size="7.4" text-anchor="end" fill="#262626">0</text>
<text x="327.6" y="205.2" font-size="7.4" text-anchor="end" fill="#262626">-0.1</text>
<text x="327.6" y="220.8" font-size="7.4" text-anchor="end" fill="#262626">-0.2</text>
<text x="327.6" y="236.4" font-size="7.4" text-anchor="end" fill="#262626">-0.3</text>
<text x="327.6" y="252" font-size="7.4" text-anchor="end" fill="#262626">-0.4</text>
<text x="327.6" y="267.6" font-size="7.4" text-anchor="end" fill="#262626">-0.5</text>
<text x="419.5" y="284.6" font-size="7.6" text-anchor="middle" fill="#262626"><tspan font-style="italic">X</tspan> / m</text>
<text transform="translate(312.1 210.5) rotate(-90)" font-size="7.6" text-anchor="middle" fill="#262626">Normal position/ m</text>
<g fill="none" stroke-width="0.9" stroke-linecap="round" clip-path="url(#axc)">
<path d="M335.4 253.6 C339.5 252.2 350.9 248.3 360 245.2 C369.1 242.1 380.5 238.5 389.7 235 C398.9 231.5 409.5 226.9 415.4 224.2 C421.3 221.5 421.6 220.8 425 218.8 C428.4 216.8 432.1 214.6 435.6 212.4 C439.2 210.2 443.5 207.6 446.3 205.5 C449.1 203.4 450.9 202.1 452.7 200 C454.5 197.9 456 195.5 457.2 193 C458.4 190.5 458.8 187.7 459.6 185 C460.4 182.3 460.8 180.2 462 177 C463.2 173.8 466.2 167.8 467.1 166" stroke="#555"/>
<path d="M333 264.4 C337.5 262.8 350.6 258.1 360 254.6 C369.4 251.1 380.5 247 389.7 243.4 C398.9 239.8 407 236.3 415.4 233 C423.8 229.7 433.4 226.2 440 223.3 C446.6 220.4 450.8 217.7 455 215.4 C459.2 213.1 462.2 210.8 465 209.4 C467.8 208 469.4 206.9 471.6 206.8 C473.8 206.7 476.9 208.3 478 208.6" stroke="#555"/>
<path d="M330.2 254.4 C335.2 252.8 350.1 247.8 360 244.5 C369.9 241.2 380.5 237.8 389.7 234.5 C398.9 231.2 409.5 227 415.4 224.6 C421.3 222.2 421.6 221.8 425 220 C428.4 218.2 432.1 215.9 435.6 213.8 C439.2 211.7 443.1 209.6 446.3 207.4 C449.5 205.2 452.7 202.6 454.8 200.4 C456.9 198.2 457.9 196.5 459 194 C460.1 191.5 461.2 186.9 461.6 185.5" stroke="#ff1a1a"/>
<path d="M330.2 263.6 C335.2 262 350.1 257.4 360 254 C369.9 250.6 380.5 246.6 389.7 243.2 C398.9 239.8 407 236.6 415.4 233.6 C423.8 230.6 433.4 227.7 440 225.3 C446.6 222.9 450.8 221.1 455 219.4 C459.2 217.8 462.2 216.3 465 215.4 C467.8 214.5 469.6 214.2 471.6 214.2 C473.6 214.2 476 215.3 476.9 215.5" stroke="#ff1a1a"/>
<path d="M334 257.6 C338.3 256 350.7 251.6 360 248 C369.3 244.4 380.5 240.2 389.7 236.3 C398.9 232.4 409.5 227.6 415.4 224.8 C421.3 222 421.6 221.3 425 219.3 C428.4 217.3 432.1 214.9 435.6 212.6 C439.2 210.3 443.5 207.7 446.3 205.7 C449.1 203.7 450.9 202.3 452.7 200.4 C454.5 198.5 455.8 196.5 456.9 194 C457.9 191.5 458.2 188.3 459 185.5 C459.8 182.7 461.2 178.4 461.6 177" stroke="#1be31b"/>
<path d="M336 265 C340 263.4 351.1 259.1 360 255.6 C368.9 252.1 380.5 247.7 389.7 244 C398.9 240.3 407 236.7 415.4 233.2 C423.8 229.7 433.4 226.1 440 223 C446.6 219.9 450.8 217 455 214.6 C459.2 212.2 462.2 210 465 208.6 C467.8 207.2 469.8 206.4 471.6 206.2 C473.4 206 474.5 206.6 476 207.2 C477.5 207.8 480 209.4 480.8 209.8" stroke="#1be31b"/>
<path d="M482.1 155.8 C480.4 157.7 474.4 163.3 471.6 167 C468.9 170.7 466.8 174.9 465.6 178 C464.4 181.1 464.2 182.8 464.3 185.4 C464.4 188 464.5 190.2 466.4 193.3 C468.3 196.4 471.8 200.4 475.5 203.7 C479.2 207 484.2 210.2 488.7 212.9 C493.2 215.6 500 218.8 502.3 220" stroke="#111" stroke-width="1.15"/>
</g>
<path d="M474 165.4L480.6 172.2" stroke="#111" stroke-width="0.6"/><path d="M482 173.7L478.3 172.3L480.4 170.1Z" fill="#111"/>
<text x="484.5" y="175.1" font-size="5.8" fill="#222">Airfoil</text>
<rect x="356.6" y="172.8" width="57" height="23.1" fill="#fff" stroke="#777" stroke-width="0.5"/>
<path d="M367.6 177H375.8" stroke="#ff1a1a" stroke-width="0.75"/>
<text x="377" y="179.1" font-size="5.55" fill="#222">Downwind</text>
<path d="M367.6 184.4H375.8" stroke="#555" stroke-width="0.75"/>
<text x="377" y="186.5" font-size="5.55" fill="#222">Straight</text>
<path d="M367.6 191.8H375.8" stroke="#1be31b" stroke-width="0.75"/>
<text x="377" y="193.9" font-size="5.55" fill="#222">Upwind</text>
</svg>
<div class="cap" style="left:104.6px;top:139.5px">(a)</div>
<div class="cap" style="left:415.2px;top:139.9px">(b)</div>
<div class="cap" style="left:131.8px;top:290.6px">(c)</div>
<div class="cap" style="left:399.6px;top:289.5px">(d)</div>
</body></html>
